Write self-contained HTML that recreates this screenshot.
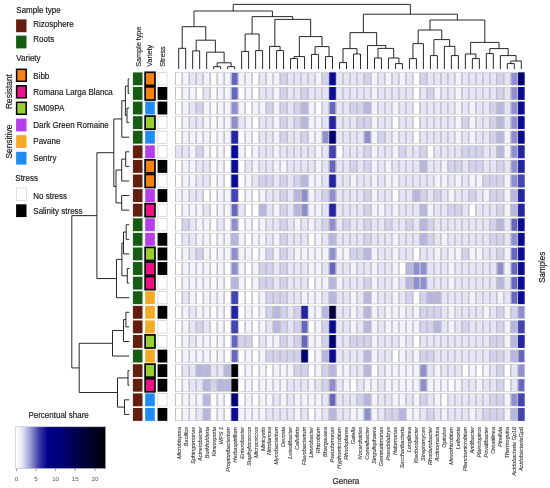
<!DOCTYPE html>
<html lang="en"><head><meta charset="utf-8"><title>Heatmap</title>
<style>
html,body{margin:0;padding:0;background:#fff}
svg{display:block}
text{font-family:"Liberation Sans",sans-serif}
.lg{font-size:8.6px;fill:#1a1a1a;stroke:#1a1a1a;stroke-width:0.18px}
.rs{font-size:9px}
.gn{font-size:5.55px;font-style:italic;fill:#3a3a3a;stroke:#3a3a3a;stroke-width:0.1px}
.hd{font-size:7.2px;fill:#111;stroke:#111;stroke-width:0.12px}
.tk{font-size:6.2px;fill:#555}
</style></head><body>
<svg width="550" height="488" viewBox="0 0 550 488">
<defs><linearGradient id="g" x1="0" x2="1" y1="0" y2="0"><stop offset="0" stop-color="#ffffff"/><stop offset="0.07" stop-color="#e8e8f6"/><stop offset="0.16" stop-color="#a0a0d6"/><stop offset="0.26" stop-color="#3c3ca8"/><stop offset="0.36" stop-color="#000088"/><stop offset="0.5" stop-color="#000078"/><stop offset="0.75" stop-color="#00003c"/><stop offset="1" stop-color="#000008"/></linearGradient></defs>
<rect width="550" height="488" fill="#fff"/>
<g>
<rect x="174.95" y="72.40" width="350.10" height="12.9" fill="#bfbfc5"/><rect x="175.95" y="72.90" width="5.5" height="11.9" fill="#ffffff"/><rect x="182.94" y="72.90" width="5.5" height="11.9" fill="#f3f3fb"/><rect x="189.93" y="72.90" width="5.5" height="11.9" fill="#e5e5f5"/><rect x="196.93" y="72.90" width="5.5" height="11.9" fill="#e5e5f5"/><rect x="203.92" y="72.90" width="5.5" height="11.9" fill="#f3f3fb"/><rect x="210.91" y="72.90" width="5.5" height="11.9" fill="#ffffff"/><rect x="217.90" y="72.90" width="5.5" height="11.9" fill="#f3f3fb"/><rect x="224.89" y="72.90" width="5.5" height="11.9" fill="#f3f3fb"/><rect x="231.89" y="72.90" width="5.5" height="11.9" fill="#6666c0"/><rect x="238.88" y="72.90" width="5.5" height="11.9" fill="#f3f3fb"/><rect x="245.87" y="72.90" width="5.5" height="11.9" fill="#f3f3fb"/><rect x="252.86" y="72.90" width="5.5" height="11.9" fill="#ffffff"/><rect x="259.85" y="72.90" width="5.5" height="11.9" fill="#e5e5f5"/><rect x="266.85" y="72.90" width="5.5" height="11.9" fill="#f3f3fb"/><rect x="273.84" y="72.90" width="5.5" height="11.9" fill="#f3f3fb"/><rect x="280.83" y="72.90" width="5.5" height="11.9" fill="#d2d2ed"/><rect x="287.82" y="72.90" width="5.5" height="11.9" fill="#e5e5f5"/><rect x="294.81" y="72.90" width="5.5" height="11.9" fill="#e5e5f5"/><rect x="301.81" y="72.90" width="5.5" height="11.9" fill="#e5e5f5"/><rect x="308.80" y="72.90" width="5.5" height="11.9" fill="#e5e5f5"/><rect x="315.79" y="72.90" width="5.5" height="11.9" fill="#f3f3fb"/><rect x="322.78" y="72.90" width="5.5" height="11.9" fill="#d2d2ed"/><rect x="329.27" y="72.40" width="6.5" height="12.9" fill="#0a0a92"/><rect x="336.77" y="72.90" width="5.5" height="11.9" fill="#e5e5f5"/><rect x="343.76" y="72.90" width="5.5" height="11.9" fill="#e5e5f5"/><rect x="350.75" y="72.90" width="5.5" height="11.9" fill="#e5e5f5"/><rect x="357.74" y="72.90" width="5.5" height="11.9" fill="#e5e5f5"/><rect x="364.73" y="72.90" width="5.5" height="11.9" fill="#d2d2ed"/><rect x="371.73" y="72.90" width="5.5" height="11.9" fill="#f3f3fb"/><rect x="378.72" y="72.90" width="5.5" height="11.9" fill="#e5e5f5"/><rect x="385.71" y="72.90" width="5.5" height="11.9" fill="#f3f3fb"/><rect x="392.70" y="72.90" width="5.5" height="11.9" fill="#e5e5f5"/><rect x="399.69" y="72.90" width="5.5" height="11.9" fill="#f3f3fb"/><rect x="406.69" y="72.90" width="5.5" height="11.9" fill="#e5e5f5"/><rect x="413.68" y="72.90" width="5.5" height="11.9" fill="#ffffff"/><rect x="420.67" y="72.90" width="5.5" height="11.9" fill="#d2d2ed"/><rect x="427.66" y="72.90" width="5.5" height="11.9" fill="#e5e5f5"/><rect x="434.65" y="72.90" width="5.5" height="11.9" fill="#e5e5f5"/><rect x="441.65" y="72.90" width="5.5" height="11.9" fill="#e5e5f5"/><rect x="448.64" y="72.90" width="5.5" height="11.9" fill="#e5e5f5"/><rect x="455.63" y="72.90" width="5.5" height="11.9" fill="#f3f3fb"/><rect x="462.62" y="72.90" width="5.5" height="11.9" fill="#e5e5f5"/><rect x="469.61" y="72.90" width="5.5" height="11.9" fill="#e5e5f5"/><rect x="476.61" y="72.90" width="5.5" height="11.9" fill="#e5e5f5"/><rect x="483.60" y="72.90" width="5.5" height="11.9" fill="#e5e5f5"/><rect x="490.59" y="72.90" width="5.5" height="11.9" fill="#e5e5f5"/><rect x="497.58" y="72.90" width="5.5" height="11.9" fill="#d2d2ed"/><rect x="504.57" y="72.90" width="5.5" height="11.9" fill="#e5e5f5"/><rect x="511.57" y="72.90" width="5.5" height="11.9" fill="#8e8ed0"/><rect x="518.06" y="72.40" width="6.5" height="12.9" fill="#000070"/>
<rect x="174.95" y="86.99" width="350.10" height="12.9" fill="#bfbfc5"/><rect x="175.95" y="87.49" width="5.5" height="11.9" fill="#ffffff"/><rect x="182.94" y="87.49" width="5.5" height="11.9" fill="#f3f3fb"/><rect x="189.93" y="87.49" width="5.5" height="11.9" fill="#f3f3fb"/><rect x="196.93" y="87.49" width="5.5" height="11.9" fill="#ffffff"/><rect x="203.92" y="87.49" width="5.5" height="11.9" fill="#e5e5f5"/><rect x="210.91" y="87.49" width="5.5" height="11.9" fill="#ffffff"/><rect x="217.90" y="87.49" width="5.5" height="11.9" fill="#f3f3fb"/><rect x="224.89" y="87.49" width="5.5" height="11.9" fill="#f3f3fb"/><rect x="231.89" y="87.49" width="5.5" height="11.9" fill="#6666c0"/><rect x="238.88" y="87.49" width="5.5" height="11.9" fill="#ffffff"/><rect x="245.87" y="87.49" width="5.5" height="11.9" fill="#f3f3fb"/><rect x="252.86" y="87.49" width="5.5" height="11.9" fill="#ffffff"/><rect x="259.85" y="87.49" width="5.5" height="11.9" fill="#e5e5f5"/><rect x="266.85" y="87.49" width="5.5" height="11.9" fill="#e5e5f5"/><rect x="273.84" y="87.49" width="5.5" height="11.9" fill="#f3f3fb"/><rect x="280.83" y="87.49" width="5.5" height="11.9" fill="#d2d2ed"/><rect x="287.82" y="87.49" width="5.5" height="11.9" fill="#e5e5f5"/><rect x="294.81" y="87.49" width="5.5" height="11.9" fill="#e5e5f5"/><rect x="301.81" y="87.49" width="5.5" height="11.9" fill="#d2d2ed"/><rect x="308.80" y="87.49" width="5.5" height="11.9" fill="#e5e5f5"/><rect x="315.79" y="87.49" width="5.5" height="11.9" fill="#e5e5f5"/><rect x="322.78" y="87.49" width="5.5" height="11.9" fill="#e5e5f5"/><rect x="329.27" y="86.99" width="6.5" height="12.9" fill="#0a0a92"/><rect x="336.77" y="87.49" width="5.5" height="11.9" fill="#e5e5f5"/><rect x="343.76" y="87.49" width="5.5" height="11.9" fill="#e5e5f5"/><rect x="350.75" y="87.49" width="5.5" height="11.9" fill="#e5e5f5"/><rect x="357.74" y="87.49" width="5.5" height="11.9" fill="#e5e5f5"/><rect x="364.73" y="87.49" width="5.5" height="11.9" fill="#e5e5f5"/><rect x="371.73" y="87.49" width="5.5" height="11.9" fill="#f3f3fb"/><rect x="378.72" y="87.49" width="5.5" height="11.9" fill="#e5e5f5"/><rect x="385.71" y="87.49" width="5.5" height="11.9" fill="#e5e5f5"/><rect x="392.70" y="87.49" width="5.5" height="11.9" fill="#e5e5f5"/><rect x="399.69" y="87.49" width="5.5" height="11.9" fill="#e5e5f5"/><rect x="406.69" y="87.49" width="5.5" height="11.9" fill="#e5e5f5"/><rect x="413.68" y="87.49" width="5.5" height="11.9" fill="#ffffff"/><rect x="420.67" y="87.49" width="5.5" height="11.9" fill="#e5e5f5"/><rect x="427.66" y="87.49" width="5.5" height="11.9" fill="#d2d2ed"/><rect x="434.65" y="87.49" width="5.5" height="11.9" fill="#f3f3fb"/><rect x="441.65" y="87.49" width="5.5" height="11.9" fill="#e5e5f5"/><rect x="448.64" y="87.49" width="5.5" height="11.9" fill="#e5e5f5"/><rect x="455.63" y="87.49" width="5.5" height="11.9" fill="#f3f3fb"/><rect x="462.62" y="87.49" width="5.5" height="11.9" fill="#e5e5f5"/><rect x="469.61" y="87.49" width="5.5" height="11.9" fill="#e5e5f5"/><rect x="476.61" y="87.49" width="5.5" height="11.9" fill="#e5e5f5"/><rect x="483.60" y="87.49" width="5.5" height="11.9" fill="#e5e5f5"/><rect x="490.59" y="87.49" width="5.5" height="11.9" fill="#e5e5f5"/><rect x="497.58" y="87.49" width="5.5" height="11.9" fill="#d2d2ed"/><rect x="504.57" y="87.49" width="5.5" height="11.9" fill="#e5e5f5"/><rect x="511.57" y="87.49" width="5.5" height="11.9" fill="#8e8ed0"/><rect x="518.06" y="86.99" width="6.5" height="12.9" fill="#0a0a92"/>
<rect x="174.95" y="101.58" width="350.10" height="12.9" fill="#bfbfc5"/><rect x="175.95" y="102.08" width="5.5" height="11.9" fill="#ffffff"/><rect x="182.94" y="102.08" width="5.5" height="11.9" fill="#f3f3fb"/><rect x="189.93" y="102.08" width="5.5" height="11.9" fill="#e5e5f5"/><rect x="196.93" y="102.08" width="5.5" height="11.9" fill="#d2d2ed"/><rect x="203.92" y="102.08" width="5.5" height="11.9" fill="#f3f3fb"/><rect x="210.91" y="102.08" width="5.5" height="11.9" fill="#ffffff"/><rect x="217.90" y="102.08" width="5.5" height="11.9" fill="#f3f3fb"/><rect x="224.89" y="102.08" width="5.5" height="11.9" fill="#f3f3fb"/><rect x="231.89" y="102.08" width="5.5" height="11.9" fill="#8e8ed0"/><rect x="238.88" y="102.08" width="5.5" height="11.9" fill="#f3f3fb"/><rect x="245.87" y="102.08" width="5.5" height="11.9" fill="#ffffff"/><rect x="252.86" y="102.08" width="5.5" height="11.9" fill="#f3f3fb"/><rect x="259.85" y="102.08" width="5.5" height="11.9" fill="#f3f3fb"/><rect x="266.85" y="102.08" width="5.5" height="11.9" fill="#d2d2ed"/><rect x="273.84" y="102.08" width="5.5" height="11.9" fill="#f3f3fb"/><rect x="280.83" y="102.08" width="5.5" height="11.9" fill="#d2d2ed"/><rect x="287.82" y="102.08" width="5.5" height="11.9" fill="#e5e5f5"/><rect x="294.81" y="102.08" width="5.5" height="11.9" fill="#d2d2ed"/><rect x="301.81" y="102.08" width="5.5" height="11.9" fill="#b6b6e1"/><rect x="308.80" y="102.08" width="5.5" height="11.9" fill="#f3f3fb"/><rect x="315.79" y="102.08" width="5.5" height="11.9" fill="#ffffff"/><rect x="322.78" y="102.08" width="5.5" height="11.9" fill="#e5e5f5"/><rect x="329.77" y="102.08" width="5.5" height="11.9" fill="#6666c0"/><rect x="336.77" y="102.08" width="5.5" height="11.9" fill="#e5e5f5"/><rect x="343.76" y="102.08" width="5.5" height="11.9" fill="#e5e5f5"/><rect x="350.75" y="102.08" width="5.5" height="11.9" fill="#d2d2ed"/><rect x="357.74" y="102.08" width="5.5" height="11.9" fill="#d2d2ed"/><rect x="364.73" y="102.08" width="5.5" height="11.9" fill="#b6b6e1"/><rect x="371.73" y="102.08" width="5.5" height="11.9" fill="#f3f3fb"/><rect x="378.72" y="102.08" width="5.5" height="11.9" fill="#e5e5f5"/><rect x="385.71" y="102.08" width="5.5" height="11.9" fill="#e5e5f5"/><rect x="392.70" y="102.08" width="5.5" height="11.9" fill="#f3f3fb"/><rect x="399.69" y="102.08" width="5.5" height="11.9" fill="#e5e5f5"/><rect x="406.69" y="102.08" width="5.5" height="11.9" fill="#e5e5f5"/><rect x="413.68" y="102.08" width="5.5" height="11.9" fill="#ffffff"/><rect x="420.67" y="102.08" width="5.5" height="11.9" fill="#e5e5f5"/><rect x="427.66" y="102.08" width="5.5" height="11.9" fill="#e5e5f5"/><rect x="434.65" y="102.08" width="5.5" height="11.9" fill="#e5e5f5"/><rect x="441.65" y="102.08" width="5.5" height="11.9" fill="#e5e5f5"/><rect x="448.64" y="102.08" width="5.5" height="11.9" fill="#e5e5f5"/><rect x="455.63" y="102.08" width="5.5" height="11.9" fill="#f3f3fb"/><rect x="462.62" y="102.08" width="5.5" height="11.9" fill="#e5e5f5"/><rect x="469.61" y="102.08" width="5.5" height="11.9" fill="#f3f3fb"/><rect x="476.61" y="102.08" width="5.5" height="11.9" fill="#e5e5f5"/><rect x="483.60" y="102.08" width="5.5" height="11.9" fill="#e5e5f5"/><rect x="490.59" y="102.08" width="5.5" height="11.9" fill="#d2d2ed"/><rect x="497.58" y="102.08" width="5.5" height="11.9" fill="#b6b6e1"/><rect x="504.57" y="102.08" width="5.5" height="11.9" fill="#e5e5f5"/><rect x="511.57" y="102.08" width="5.5" height="11.9" fill="#8e8ed0"/><rect x="518.06" y="101.58" width="6.5" height="12.9" fill="#0a0a92"/>
<rect x="174.95" y="116.17" width="350.10" height="12.9" fill="#bfbfc5"/><rect x="175.95" y="116.67" width="5.5" height="11.9" fill="#ffffff"/><rect x="182.94" y="116.67" width="5.5" height="11.9" fill="#f3f3fb"/><rect x="189.93" y="116.67" width="5.5" height="11.9" fill="#e5e5f5"/><rect x="196.93" y="116.67" width="5.5" height="11.9" fill="#e5e5f5"/><rect x="203.92" y="116.67" width="5.5" height="11.9" fill="#f3f3fb"/><rect x="210.91" y="116.67" width="5.5" height="11.9" fill="#ffffff"/><rect x="217.90" y="116.67" width="5.5" height="11.9" fill="#f3f3fb"/><rect x="224.89" y="116.67" width="5.5" height="11.9" fill="#f3f3fb"/><rect x="231.89" y="116.67" width="5.5" height="11.9" fill="#8e8ed0"/><rect x="238.88" y="116.67" width="5.5" height="11.9" fill="#e5e5f5"/><rect x="245.87" y="116.67" width="5.5" height="11.9" fill="#f3f3fb"/><rect x="252.86" y="116.67" width="5.5" height="11.9" fill="#ffffff"/><rect x="259.85" y="116.67" width="5.5" height="11.9" fill="#e5e5f5"/><rect x="266.85" y="116.67" width="5.5" height="11.9" fill="#e5e5f5"/><rect x="273.84" y="116.67" width="5.5" height="11.9" fill="#f3f3fb"/><rect x="280.83" y="116.67" width="5.5" height="11.9" fill="#d2d2ed"/><rect x="287.82" y="116.67" width="5.5" height="11.9" fill="#e5e5f5"/><rect x="294.81" y="116.67" width="5.5" height="11.9" fill="#d2d2ed"/><rect x="301.81" y="116.67" width="5.5" height="11.9" fill="#b6b6e1"/><rect x="308.80" y="116.67" width="5.5" height="11.9" fill="#f3f3fb"/><rect x="315.79" y="116.67" width="5.5" height="11.9" fill="#f3f3fb"/><rect x="322.78" y="116.67" width="5.5" height="11.9" fill="#e5e5f5"/><rect x="329.27" y="116.17" width="6.5" height="12.9" fill="#2424a2"/><rect x="336.77" y="116.67" width="5.5" height="11.9" fill="#e5e5f5"/><rect x="343.76" y="116.67" width="5.5" height="11.9" fill="#e5e5f5"/><rect x="350.75" y="116.67" width="5.5" height="11.9" fill="#e5e5f5"/><rect x="357.74" y="116.67" width="5.5" height="11.9" fill="#d2d2ed"/><rect x="364.73" y="116.67" width="5.5" height="11.9" fill="#d2d2ed"/><rect x="371.73" y="116.67" width="5.5" height="11.9" fill="#f3f3fb"/><rect x="378.72" y="116.67" width="5.5" height="11.9" fill="#e5e5f5"/><rect x="385.71" y="116.67" width="5.5" height="11.9" fill="#e5e5f5"/><rect x="392.70" y="116.67" width="5.5" height="11.9" fill="#ffffff"/><rect x="399.69" y="116.67" width="5.5" height="11.9" fill="#e5e5f5"/><rect x="406.69" y="116.67" width="5.5" height="11.9" fill="#e5e5f5"/><rect x="413.68" y="116.67" width="5.5" height="11.9" fill="#ffffff"/><rect x="420.67" y="116.67" width="5.5" height="11.9" fill="#e5e5f5"/><rect x="427.66" y="116.67" width="5.5" height="11.9" fill="#e5e5f5"/><rect x="434.65" y="116.67" width="5.5" height="11.9" fill="#e5e5f5"/><rect x="441.65" y="116.67" width="5.5" height="11.9" fill="#e5e5f5"/><rect x="448.64" y="116.67" width="5.5" height="11.9" fill="#e5e5f5"/><rect x="455.63" y="116.67" width="5.5" height="11.9" fill="#f3f3fb"/><rect x="462.62" y="116.67" width="5.5" height="11.9" fill="#d2d2ed"/><rect x="469.61" y="116.67" width="5.5" height="11.9" fill="#f3f3fb"/><rect x="476.61" y="116.67" width="5.5" height="11.9" fill="#e5e5f5"/><rect x="483.60" y="116.67" width="5.5" height="11.9" fill="#e5e5f5"/><rect x="490.59" y="116.67" width="5.5" height="11.9" fill="#d2d2ed"/><rect x="497.58" y="116.67" width="5.5" height="11.9" fill="#b6b6e1"/><rect x="504.57" y="116.67" width="5.5" height="11.9" fill="#e5e5f5"/><rect x="511.57" y="116.67" width="5.5" height="11.9" fill="#8e8ed0"/><rect x="518.06" y="116.17" width="6.5" height="12.9" fill="#0a0a92"/>
<rect x="174.95" y="130.76" width="350.10" height="12.9" fill="#bfbfc5"/><rect x="175.95" y="131.26" width="5.5" height="11.9" fill="#ffffff"/><rect x="182.94" y="131.26" width="5.5" height="11.9" fill="#f3f3fb"/><rect x="189.93" y="131.26" width="5.5" height="11.9" fill="#f3f3fb"/><rect x="196.93" y="131.26" width="5.5" height="11.9" fill="#f3f3fb"/><rect x="203.92" y="131.26" width="5.5" height="11.9" fill="#f3f3fb"/><rect x="210.91" y="131.26" width="5.5" height="11.9" fill="#ffffff"/><rect x="217.90" y="131.26" width="5.5" height="11.9" fill="#f3f3fb"/><rect x="224.89" y="131.26" width="5.5" height="11.9" fill="#f3f3fb"/><rect x="231.39" y="130.76" width="6.5" height="12.9" fill="#2424a2"/><rect x="238.88" y="131.26" width="5.5" height="11.9" fill="#ffffff"/><rect x="245.87" y="131.26" width="5.5" height="11.9" fill="#f3f3fb"/><rect x="252.86" y="131.26" width="5.5" height="11.9" fill="#ffffff"/><rect x="259.85" y="131.26" width="5.5" height="11.9" fill="#e5e5f5"/><rect x="266.85" y="131.26" width="5.5" height="11.9" fill="#e5e5f5"/><rect x="273.84" y="131.26" width="5.5" height="11.9" fill="#f3f3fb"/><rect x="280.83" y="131.26" width="5.5" height="11.9" fill="#d2d2ed"/><rect x="287.82" y="131.26" width="5.5" height="11.9" fill="#e5e5f5"/><rect x="294.81" y="131.26" width="5.5" height="11.9" fill="#e5e5f5"/><rect x="301.81" y="131.26" width="5.5" height="11.9" fill="#d2d2ed"/><rect x="308.80" y="131.26" width="5.5" height="11.9" fill="#f3f3fb"/><rect x="315.79" y="131.26" width="5.5" height="11.9" fill="#f3f3fb"/><rect x="322.78" y="131.26" width="5.5" height="11.9" fill="#8e8ed0"/><rect x="329.27" y="130.76" width="6.5" height="12.9" fill="#000070"/><rect x="336.77" y="131.26" width="5.5" height="11.9" fill="#e5e5f5"/><rect x="343.76" y="131.26" width="5.5" height="11.9" fill="#e5e5f5"/><rect x="350.75" y="131.26" width="5.5" height="11.9" fill="#e5e5f5"/><rect x="357.74" y="131.26" width="5.5" height="11.9" fill="#e5e5f5"/><rect x="364.73" y="131.26" width="5.5" height="11.9" fill="#8e8ed0"/><rect x="371.73" y="131.26" width="5.5" height="11.9" fill="#f3f3fb"/><rect x="378.72" y="131.26" width="5.5" height="11.9" fill="#d2d2ed"/><rect x="385.71" y="131.26" width="5.5" height="11.9" fill="#e5e5f5"/><rect x="392.70" y="131.26" width="5.5" height="11.9" fill="#f3f3fb"/><rect x="399.69" y="131.26" width="5.5" height="11.9" fill="#e5e5f5"/><rect x="406.69" y="131.26" width="5.5" height="11.9" fill="#e5e5f5"/><rect x="413.68" y="131.26" width="5.5" height="11.9" fill="#ffffff"/><rect x="420.67" y="131.26" width="5.5" height="11.9" fill="#e5e5f5"/><rect x="427.66" y="131.26" width="5.5" height="11.9" fill="#e5e5f5"/><rect x="434.65" y="131.26" width="5.5" height="11.9" fill="#e5e5f5"/><rect x="441.65" y="131.26" width="5.5" height="11.9" fill="#e5e5f5"/><rect x="448.64" y="131.26" width="5.5" height="11.9" fill="#e5e5f5"/><rect x="455.63" y="131.26" width="5.5" height="11.9" fill="#f3f3fb"/><rect x="462.62" y="131.26" width="5.5" height="11.9" fill="#e5e5f5"/><rect x="469.61" y="131.26" width="5.5" height="11.9" fill="#f3f3fb"/><rect x="476.61" y="131.26" width="5.5" height="11.9" fill="#e5e5f5"/><rect x="483.60" y="131.26" width="5.5" height="11.9" fill="#e5e5f5"/><rect x="490.59" y="131.26" width="5.5" height="11.9" fill="#d2d2ed"/><rect x="497.58" y="131.26" width="5.5" height="11.9" fill="#b6b6e1"/><rect x="504.57" y="131.26" width="5.5" height="11.9" fill="#f3f3fb"/><rect x="511.57" y="131.26" width="5.5" height="11.9" fill="#8e8ed0"/><rect x="518.06" y="130.76" width="6.5" height="12.9" fill="#0a0a92"/>
<rect x="174.95" y="145.35" width="350.10" height="12.9" fill="#bfbfc5"/><rect x="175.95" y="145.85" width="5.5" height="11.9" fill="#e5e5f5"/><rect x="182.94" y="145.85" width="5.5" height="11.9" fill="#e5e5f5"/><rect x="189.93" y="145.85" width="5.5" height="11.9" fill="#f3f3fb"/><rect x="196.93" y="145.85" width="5.5" height="11.9" fill="#d2d2ed"/><rect x="203.92" y="145.85" width="5.5" height="11.9" fill="#f3f3fb"/><rect x="210.91" y="145.85" width="5.5" height="11.9" fill="#ffffff"/><rect x="217.90" y="145.85" width="5.5" height="11.9" fill="#f3f3fb"/><rect x="224.89" y="145.85" width="5.5" height="11.9" fill="#ffffff"/><rect x="231.39" y="145.35" width="6.5" height="12.9" fill="#0a0a92"/><rect x="238.88" y="145.85" width="5.5" height="11.9" fill="#f3f3fb"/><rect x="245.87" y="145.85" width="5.5" height="11.9" fill="#ffffff"/><rect x="252.86" y="145.85" width="5.5" height="11.9" fill="#f3f3fb"/><rect x="259.85" y="145.85" width="5.5" height="11.9" fill="#e5e5f5"/><rect x="266.85" y="145.85" width="5.5" height="11.9" fill="#e5e5f5"/><rect x="273.84" y="145.85" width="5.5" height="11.9" fill="#f3f3fb"/><rect x="280.83" y="145.85" width="5.5" height="11.9" fill="#e5e5f5"/><rect x="287.82" y="145.85" width="5.5" height="11.9" fill="#e5e5f5"/><rect x="294.81" y="145.85" width="5.5" height="11.9" fill="#e5e5f5"/><rect x="301.81" y="145.85" width="5.5" height="11.9" fill="#e5e5f5"/><rect x="308.80" y="145.85" width="5.5" height="11.9" fill="#e5e5f5"/><rect x="315.79" y="145.85" width="5.5" height="11.9" fill="#f3f3fb"/><rect x="322.78" y="145.85" width="5.5" height="11.9" fill="#e5e5f5"/><rect x="329.27" y="145.35" width="6.5" height="12.9" fill="#4444b0"/><rect x="336.77" y="145.85" width="5.5" height="11.9" fill="#ffffff"/><rect x="343.76" y="145.85" width="5.5" height="11.9" fill="#e5e5f5"/><rect x="350.75" y="145.85" width="5.5" height="11.9" fill="#e5e5f5"/><rect x="357.74" y="145.85" width="5.5" height="11.9" fill="#e5e5f5"/><rect x="364.73" y="145.85" width="5.5" height="11.9" fill="#d2d2ed"/><rect x="371.73" y="145.85" width="5.5" height="11.9" fill="#f3f3fb"/><rect x="378.72" y="145.85" width="5.5" height="11.9" fill="#e5e5f5"/><rect x="385.71" y="145.85" width="5.5" height="11.9" fill="#e5e5f5"/><rect x="392.70" y="145.85" width="5.5" height="11.9" fill="#f3f3fb"/><rect x="399.69" y="145.85" width="5.5" height="11.9" fill="#d2d2ed"/><rect x="406.69" y="145.85" width="5.5" height="11.9" fill="#e5e5f5"/><rect x="413.68" y="145.85" width="5.5" height="11.9" fill="#e5e5f5"/><rect x="420.67" y="145.85" width="5.5" height="11.9" fill="#d2d2ed"/><rect x="427.66" y="145.85" width="5.5" height="11.9" fill="#ffffff"/><rect x="434.65" y="145.85" width="5.5" height="11.9" fill="#e5e5f5"/><rect x="441.65" y="145.85" width="5.5" height="11.9" fill="#e5e5f5"/><rect x="448.64" y="145.85" width="5.5" height="11.9" fill="#e5e5f5"/><rect x="455.63" y="145.85" width="5.5" height="11.9" fill="#e5e5f5"/><rect x="462.62" y="145.85" width="5.5" height="11.9" fill="#d2d2ed"/><rect x="469.61" y="145.85" width="5.5" height="11.9" fill="#d2d2ed"/><rect x="476.61" y="145.85" width="5.5" height="11.9" fill="#d2d2ed"/><rect x="483.60" y="145.85" width="5.5" height="11.9" fill="#e5e5f5"/><rect x="490.59" y="145.85" width="5.5" height="11.9" fill="#e5e5f5"/><rect x="497.58" y="145.85" width="5.5" height="11.9" fill="#b6b6e1"/><rect x="504.57" y="145.85" width="5.5" height="11.9" fill="#f3f3fb"/><rect x="511.57" y="145.85" width="5.5" height="11.9" fill="#8e8ed0"/><rect x="518.06" y="145.35" width="6.5" height="12.9" fill="#2424a2"/>
<rect x="174.95" y="159.94" width="350.10" height="12.9" fill="#bfbfc5"/><rect x="175.95" y="160.44" width="5.5" height="11.9" fill="#ffffff"/><rect x="182.94" y="160.44" width="5.5" height="11.9" fill="#f3f3fb"/><rect x="189.93" y="160.44" width="5.5" height="11.9" fill="#f3f3fb"/><rect x="196.93" y="160.44" width="5.5" height="11.9" fill="#e5e5f5"/><rect x="203.92" y="160.44" width="5.5" height="11.9" fill="#e5e5f5"/><rect x="210.91" y="160.44" width="5.5" height="11.9" fill="#ffffff"/><rect x="217.90" y="160.44" width="5.5" height="11.9" fill="#f3f3fb"/><rect x="224.89" y="160.44" width="5.5" height="11.9" fill="#ffffff"/><rect x="231.39" y="159.94" width="6.5" height="12.9" fill="#0a0a92"/><rect x="238.88" y="160.44" width="5.5" height="11.9" fill="#ffffff"/><rect x="245.87" y="160.44" width="5.5" height="11.9" fill="#e5e5f5"/><rect x="252.86" y="160.44" width="5.5" height="11.9" fill="#f3f3fb"/><rect x="259.85" y="160.44" width="5.5" height="11.9" fill="#e5e5f5"/><rect x="266.85" y="160.44" width="5.5" height="11.9" fill="#e5e5f5"/><rect x="273.84" y="160.44" width="5.5" height="11.9" fill="#f3f3fb"/><rect x="280.83" y="160.44" width="5.5" height="11.9" fill="#f3f3fb"/><rect x="287.82" y="160.44" width="5.5" height="11.9" fill="#e5e5f5"/><rect x="294.81" y="160.44" width="5.5" height="11.9" fill="#e5e5f5"/><rect x="301.81" y="160.44" width="5.5" height="11.9" fill="#e5e5f5"/><rect x="308.80" y="160.44" width="5.5" height="11.9" fill="#e5e5f5"/><rect x="315.79" y="160.44" width="5.5" height="11.9" fill="#f3f3fb"/><rect x="322.78" y="160.44" width="5.5" height="11.9" fill="#e5e5f5"/><rect x="329.77" y="160.44" width="5.5" height="11.9" fill="#6666c0"/><rect x="336.77" y="160.44" width="5.5" height="11.9" fill="#e5e5f5"/><rect x="343.76" y="160.44" width="5.5" height="11.9" fill="#e5e5f5"/><rect x="350.75" y="160.44" width="5.5" height="11.9" fill="#d2d2ed"/><rect x="357.74" y="160.44" width="5.5" height="11.9" fill="#e5e5f5"/><rect x="364.73" y="160.44" width="5.5" height="11.9" fill="#d2d2ed"/><rect x="371.73" y="160.44" width="5.5" height="11.9" fill="#f3f3fb"/><rect x="378.72" y="160.44" width="5.5" height="11.9" fill="#e5e5f5"/><rect x="385.71" y="160.44" width="5.5" height="11.9" fill="#f3f3fb"/><rect x="392.70" y="160.44" width="5.5" height="11.9" fill="#e5e5f5"/><rect x="399.69" y="160.44" width="5.5" height="11.9" fill="#e5e5f5"/><rect x="406.69" y="160.44" width="5.5" height="11.9" fill="#e5e5f5"/><rect x="413.68" y="160.44" width="5.5" height="11.9" fill="#e5e5f5"/><rect x="420.67" y="160.44" width="5.5" height="11.9" fill="#b6b6e1"/><rect x="427.66" y="160.44" width="5.5" height="11.9" fill="#e5e5f5"/><rect x="434.65" y="160.44" width="5.5" height="11.9" fill="#e5e5f5"/><rect x="441.65" y="160.44" width="5.5" height="11.9" fill="#f3f3fb"/><rect x="448.64" y="160.44" width="5.5" height="11.9" fill="#d2d2ed"/><rect x="455.63" y="160.44" width="5.5" height="11.9" fill="#d2d2ed"/><rect x="462.62" y="160.44" width="5.5" height="11.9" fill="#e5e5f5"/><rect x="469.61" y="160.44" width="5.5" height="11.9" fill="#d2d2ed"/><rect x="476.61" y="160.44" width="5.5" height="11.9" fill="#d2d2ed"/><rect x="483.60" y="160.44" width="5.5" height="11.9" fill="#e5e5f5"/><rect x="490.59" y="160.44" width="5.5" height="11.9" fill="#e5e5f5"/><rect x="497.58" y="160.44" width="5.5" height="11.9" fill="#d2d2ed"/><rect x="504.57" y="160.44" width="5.5" height="11.9" fill="#e5e5f5"/><rect x="511.57" y="160.44" width="5.5" height="11.9" fill="#8e8ed0"/><rect x="518.06" y="159.94" width="6.5" height="12.9" fill="#2424a2"/>
<rect x="174.95" y="174.53" width="350.10" height="12.9" fill="#bfbfc5"/><rect x="175.95" y="175.03" width="5.5" height="11.9" fill="#ffffff"/><rect x="182.94" y="175.03" width="5.5" height="11.9" fill="#f3f3fb"/><rect x="189.93" y="175.03" width="5.5" height="11.9" fill="#f3f3fb"/><rect x="196.93" y="175.03" width="5.5" height="11.9" fill="#e5e5f5"/><rect x="203.92" y="175.03" width="5.5" height="11.9" fill="#e5e5f5"/><rect x="210.91" y="175.03" width="5.5" height="11.9" fill="#ffffff"/><rect x="217.90" y="175.03" width="5.5" height="11.9" fill="#f3f3fb"/><rect x="224.89" y="175.03" width="5.5" height="11.9" fill="#ffffff"/><rect x="231.39" y="174.53" width="6.5" height="12.9" fill="#0a0a92"/><rect x="238.88" y="175.03" width="5.5" height="11.9" fill="#ffffff"/><rect x="245.87" y="175.03" width="5.5" height="11.9" fill="#f3f3fb"/><rect x="252.86" y="175.03" width="5.5" height="11.9" fill="#e5e5f5"/><rect x="259.85" y="175.03" width="5.5" height="11.9" fill="#d2d2ed"/><rect x="266.85" y="175.03" width="5.5" height="11.9" fill="#d2d2ed"/><rect x="273.84" y="175.03" width="5.5" height="11.9" fill="#e5e5f5"/><rect x="280.83" y="175.03" width="5.5" height="11.9" fill="#d2d2ed"/><rect x="287.82" y="175.03" width="5.5" height="11.9" fill="#e5e5f5"/><rect x="294.81" y="175.03" width="5.5" height="11.9" fill="#d2d2ed"/><rect x="301.81" y="175.03" width="5.5" height="11.9" fill="#b6b6e1"/><rect x="308.80" y="175.03" width="5.5" height="11.9" fill="#f3f3fb"/><rect x="315.79" y="175.03" width="5.5" height="11.9" fill="#f3f3fb"/><rect x="322.78" y="175.03" width="5.5" height="11.9" fill="#e5e5f5"/><rect x="329.27" y="174.53" width="6.5" height="12.9" fill="#2424a2"/><rect x="336.77" y="175.03" width="5.5" height="11.9" fill="#e5e5f5"/><rect x="343.76" y="175.03" width="5.5" height="11.9" fill="#e5e5f5"/><rect x="350.75" y="175.03" width="5.5" height="11.9" fill="#f3f3fb"/><rect x="357.74" y="175.03" width="5.5" height="11.9" fill="#e5e5f5"/><rect x="364.73" y="175.03" width="5.5" height="11.9" fill="#e5e5f5"/><rect x="371.73" y="175.03" width="5.5" height="11.9" fill="#f3f3fb"/><rect x="378.72" y="175.03" width="5.5" height="11.9" fill="#e5e5f5"/><rect x="385.71" y="175.03" width="5.5" height="11.9" fill="#f3f3fb"/><rect x="392.70" y="175.03" width="5.5" height="11.9" fill="#f3f3fb"/><rect x="399.69" y="175.03" width="5.5" height="11.9" fill="#e5e5f5"/><rect x="406.69" y="175.03" width="5.5" height="11.9" fill="#e5e5f5"/><rect x="413.68" y="175.03" width="5.5" height="11.9" fill="#e5e5f5"/><rect x="420.67" y="175.03" width="5.5" height="11.9" fill="#e5e5f5"/><rect x="427.66" y="175.03" width="5.5" height="11.9" fill="#e5e5f5"/><rect x="434.65" y="175.03" width="5.5" height="11.9" fill="#f3f3fb"/><rect x="441.65" y="175.03" width="5.5" height="11.9" fill="#f3f3fb"/><rect x="448.64" y="175.03" width="5.5" height="11.9" fill="#e5e5f5"/><rect x="455.63" y="175.03" width="5.5" height="11.9" fill="#f3f3fb"/><rect x="462.62" y="175.03" width="5.5" height="11.9" fill="#e5e5f5"/><rect x="469.61" y="175.03" width="5.5" height="11.9" fill="#f3f3fb"/><rect x="476.61" y="175.03" width="5.5" height="11.9" fill="#f3f3fb"/><rect x="483.60" y="175.03" width="5.5" height="11.9" fill="#d2d2ed"/><rect x="490.59" y="175.03" width="5.5" height="11.9" fill="#d2d2ed"/><rect x="497.58" y="175.03" width="5.5" height="11.9" fill="#d2d2ed"/><rect x="504.57" y="175.03" width="5.5" height="11.9" fill="#f3f3fb"/><rect x="511.57" y="175.03" width="5.5" height="11.9" fill="#8e8ed0"/><rect x="518.06" y="174.53" width="6.5" height="12.9" fill="#4444b0"/>
<rect x="174.95" y="189.12" width="350.10" height="12.9" fill="#bfbfc5"/><rect x="175.95" y="189.62" width="5.5" height="11.9" fill="#f3f3fb"/><rect x="182.94" y="189.62" width="5.5" height="11.9" fill="#f3f3fb"/><rect x="189.93" y="189.62" width="5.5" height="11.9" fill="#e5e5f5"/><rect x="196.93" y="189.62" width="5.5" height="11.9" fill="#e5e5f5"/><rect x="203.92" y="189.62" width="5.5" height="11.9" fill="#ffffff"/><rect x="210.91" y="189.62" width="5.5" height="11.9" fill="#ffffff"/><rect x="217.90" y="189.62" width="5.5" height="11.9" fill="#f3f3fb"/><rect x="224.89" y="189.62" width="5.5" height="11.9" fill="#f3f3fb"/><rect x="231.39" y="189.12" width="6.5" height="12.9" fill="#4444b0"/><rect x="238.88" y="189.62" width="5.5" height="11.9" fill="#ffffff"/><rect x="245.87" y="189.62" width="5.5" height="11.9" fill="#f3f3fb"/><rect x="252.86" y="189.62" width="5.5" height="11.9" fill="#ffffff"/><rect x="259.85" y="189.62" width="5.5" height="11.9" fill="#f3f3fb"/><rect x="266.85" y="189.62" width="5.5" height="11.9" fill="#e5e5f5"/><rect x="273.84" y="189.62" width="5.5" height="11.9" fill="#e5e5f5"/><rect x="280.83" y="189.62" width="5.5" height="11.9" fill="#d2d2ed"/><rect x="287.82" y="189.62" width="5.5" height="11.9" fill="#e5e5f5"/><rect x="294.81" y="189.62" width="5.5" height="11.9" fill="#b6b6e1"/><rect x="301.81" y="189.62" width="5.5" height="11.9" fill="#8e8ed0"/><rect x="308.80" y="189.62" width="5.5" height="11.9" fill="#f3f3fb"/><rect x="315.79" y="189.62" width="5.5" height="11.9" fill="#e5e5f5"/><rect x="322.78" y="189.62" width="5.5" height="11.9" fill="#d2d2ed"/><rect x="329.77" y="189.62" width="5.5" height="11.9" fill="#8e8ed0"/><rect x="336.77" y="189.62" width="5.5" height="11.9" fill="#e5e5f5"/><rect x="343.76" y="189.62" width="5.5" height="11.9" fill="#e5e5f5"/><rect x="350.75" y="189.62" width="5.5" height="11.9" fill="#e5e5f5"/><rect x="357.74" y="189.62" width="5.5" height="11.9" fill="#e5e5f5"/><rect x="364.73" y="189.62" width="5.5" height="11.9" fill="#d2d2ed"/><rect x="371.73" y="189.62" width="5.5" height="11.9" fill="#f3f3fb"/><rect x="378.72" y="189.62" width="5.5" height="11.9" fill="#e5e5f5"/><rect x="385.71" y="189.62" width="5.5" height="11.9" fill="#e5e5f5"/><rect x="392.70" y="189.62" width="5.5" height="11.9" fill="#ffffff"/><rect x="399.69" y="189.62" width="5.5" height="11.9" fill="#e5e5f5"/><rect x="406.69" y="189.62" width="5.5" height="11.9" fill="#e5e5f5"/><rect x="413.68" y="189.62" width="5.5" height="11.9" fill="#b6b6e1"/><rect x="420.67" y="189.62" width="5.5" height="11.9" fill="#d2d2ed"/><rect x="427.66" y="189.62" width="5.5" height="11.9" fill="#e5e5f5"/><rect x="434.65" y="189.62" width="5.5" height="11.9" fill="#d2d2ed"/><rect x="441.65" y="189.62" width="5.5" height="11.9" fill="#e5e5f5"/><rect x="448.64" y="189.62" width="5.5" height="11.9" fill="#f3f3fb"/><rect x="455.63" y="189.62" width="5.5" height="11.9" fill="#e5e5f5"/><rect x="462.62" y="189.62" width="5.5" height="11.9" fill="#e5e5f5"/><rect x="469.61" y="189.62" width="5.5" height="11.9" fill="#d2d2ed"/><rect x="476.61" y="189.62" width="5.5" height="11.9" fill="#e5e5f5"/><rect x="483.60" y="189.62" width="5.5" height="11.9" fill="#f3f3fb"/><rect x="490.59" y="189.62" width="5.5" height="11.9" fill="#d2d2ed"/><rect x="497.58" y="189.62" width="5.5" height="11.9" fill="#d2d2ed"/><rect x="504.57" y="189.62" width="5.5" height="11.9" fill="#f3f3fb"/><rect x="511.57" y="189.62" width="5.5" height="11.9" fill="#b6b6e1"/><rect x="518.06" y="189.12" width="6.5" height="12.9" fill="#2424a2"/>
<rect x="174.95" y="203.71" width="350.10" height="12.9" fill="#bfbfc5"/><rect x="175.95" y="204.21" width="5.5" height="11.9" fill="#ffffff"/><rect x="182.94" y="204.21" width="5.5" height="11.9" fill="#f3f3fb"/><rect x="189.93" y="204.21" width="5.5" height="11.9" fill="#f3f3fb"/><rect x="196.93" y="204.21" width="5.5" height="11.9" fill="#f3f3fb"/><rect x="203.92" y="204.21" width="5.5" height="11.9" fill="#e5e5f5"/><rect x="210.91" y="204.21" width="5.5" height="11.9" fill="#ffffff"/><rect x="217.90" y="204.21" width="5.5" height="11.9" fill="#f3f3fb"/><rect x="224.89" y="204.21" width="5.5" height="11.9" fill="#f3f3fb"/><rect x="231.89" y="204.21" width="5.5" height="11.9" fill="#6666c0"/><rect x="238.88" y="204.21" width="5.5" height="11.9" fill="#e5e5f5"/><rect x="245.87" y="204.21" width="5.5" height="11.9" fill="#ffffff"/><rect x="252.86" y="204.21" width="5.5" height="11.9" fill="#ffffff"/><rect x="259.85" y="204.21" width="5.5" height="11.9" fill="#b6b6e1"/><rect x="266.85" y="204.21" width="5.5" height="11.9" fill="#e5e5f5"/><rect x="273.84" y="204.21" width="5.5" height="11.9" fill="#f3f3fb"/><rect x="280.83" y="204.21" width="5.5" height="11.9" fill="#d2d2ed"/><rect x="287.82" y="204.21" width="5.5" height="11.9" fill="#e5e5f5"/><rect x="294.81" y="204.21" width="5.5" height="11.9" fill="#b6b6e1"/><rect x="301.81" y="204.21" width="5.5" height="11.9" fill="#8e8ed0"/><rect x="308.80" y="204.21" width="5.5" height="11.9" fill="#f3f3fb"/><rect x="315.79" y="204.21" width="5.5" height="11.9" fill="#f3f3fb"/><rect x="322.78" y="204.21" width="5.5" height="11.9" fill="#e5e5f5"/><rect x="329.27" y="203.71" width="6.5" height="12.9" fill="#2424a2"/><rect x="336.77" y="204.21" width="5.5" height="11.9" fill="#e5e5f5"/><rect x="343.76" y="204.21" width="5.5" height="11.9" fill="#e5e5f5"/><rect x="350.75" y="204.21" width="5.5" height="11.9" fill="#e5e5f5"/><rect x="357.74" y="204.21" width="5.5" height="11.9" fill="#e5e5f5"/><rect x="364.73" y="204.21" width="5.5" height="11.9" fill="#d2d2ed"/><rect x="371.73" y="204.21" width="5.5" height="11.9" fill="#f3f3fb"/><rect x="378.72" y="204.21" width="5.5" height="11.9" fill="#f3f3fb"/><rect x="385.71" y="204.21" width="5.5" height="11.9" fill="#e5e5f5"/><rect x="392.70" y="204.21" width="5.5" height="11.9" fill="#f3f3fb"/><rect x="399.69" y="204.21" width="5.5" height="11.9" fill="#e5e5f5"/><rect x="406.69" y="204.21" width="5.5" height="11.9" fill="#e5e5f5"/><rect x="413.68" y="204.21" width="5.5" height="11.9" fill="#e5e5f5"/><rect x="420.67" y="204.21" width="5.5" height="11.9" fill="#b6b6e1"/><rect x="427.66" y="204.21" width="5.5" height="11.9" fill="#f3f3fb"/><rect x="434.65" y="204.21" width="5.5" height="11.9" fill="#e5e5f5"/><rect x="441.65" y="204.21" width="5.5" height="11.9" fill="#e5e5f5"/><rect x="448.64" y="204.21" width="5.5" height="11.9" fill="#d2d2ed"/><rect x="455.63" y="204.21" width="5.5" height="11.9" fill="#d2d2ed"/><rect x="462.62" y="204.21" width="5.5" height="11.9" fill="#e5e5f5"/><rect x="469.61" y="204.21" width="5.5" height="11.9" fill="#ffffff"/><rect x="476.61" y="204.21" width="5.5" height="11.9" fill="#e5e5f5"/><rect x="483.60" y="204.21" width="5.5" height="11.9" fill="#e5e5f5"/><rect x="490.59" y="204.21" width="5.5" height="11.9" fill="#e5e5f5"/><rect x="497.58" y="204.21" width="5.5" height="11.9" fill="#d2d2ed"/><rect x="504.57" y="204.21" width="5.5" height="11.9" fill="#f3f3fb"/><rect x="511.57" y="204.21" width="5.5" height="11.9" fill="#b6b6e1"/><rect x="518.06" y="203.71" width="6.5" height="12.9" fill="#2424a2"/>
<rect x="174.95" y="218.30" width="350.10" height="12.9" fill="#bfbfc5"/><rect x="175.95" y="218.80" width="5.5" height="11.9" fill="#ffffff"/><rect x="182.94" y="218.80" width="5.5" height="11.9" fill="#d2d2ed"/><rect x="189.93" y="218.80" width="5.5" height="11.9" fill="#e5e5f5"/><rect x="196.93" y="218.80" width="5.5" height="11.9" fill="#f3f3fb"/><rect x="203.92" y="218.80" width="5.5" height="11.9" fill="#f3f3fb"/><rect x="210.91" y="218.80" width="5.5" height="11.9" fill="#ffffff"/><rect x="217.90" y="218.80" width="5.5" height="11.9" fill="#e5e5f5"/><rect x="224.89" y="218.80" width="5.5" height="11.9" fill="#ffffff"/><rect x="231.89" y="218.80" width="5.5" height="11.9" fill="#8e8ed0"/><rect x="238.88" y="218.80" width="5.5" height="11.9" fill="#ffffff"/><rect x="245.87" y="218.80" width="5.5" height="11.9" fill="#f3f3fb"/><rect x="252.86" y="218.80" width="5.5" height="11.9" fill="#ffffff"/><rect x="259.85" y="218.80" width="5.5" height="11.9" fill="#f3f3fb"/><rect x="266.85" y="218.80" width="5.5" height="11.9" fill="#e5e5f5"/><rect x="273.84" y="218.80" width="5.5" height="11.9" fill="#e5e5f5"/><rect x="280.83" y="218.80" width="5.5" height="11.9" fill="#d2d2ed"/><rect x="287.82" y="218.80" width="5.5" height="11.9" fill="#e5e5f5"/><rect x="294.81" y="218.80" width="5.5" height="11.9" fill="#f3f3fb"/><rect x="301.81" y="218.80" width="5.5" height="11.9" fill="#e5e5f5"/><rect x="308.80" y="218.80" width="5.5" height="11.9" fill="#f3f3fb"/><rect x="315.79" y="218.80" width="5.5" height="11.9" fill="#e5e5f5"/><rect x="322.78" y="218.80" width="5.5" height="11.9" fill="#d2d2ed"/><rect x="329.77" y="218.80" width="5.5" height="11.9" fill="#8e8ed0"/><rect x="336.77" y="218.80" width="5.5" height="11.9" fill="#e5e5f5"/><rect x="343.76" y="218.80" width="5.5" height="11.9" fill="#d2d2ed"/><rect x="350.75" y="218.80" width="5.5" height="11.9" fill="#e5e5f5"/><rect x="357.74" y="218.80" width="5.5" height="11.9" fill="#e5e5f5"/><rect x="364.73" y="218.80" width="5.5" height="11.9" fill="#d2d2ed"/><rect x="371.73" y="218.80" width="5.5" height="11.9" fill="#e5e5f5"/><rect x="378.72" y="218.80" width="5.5" height="11.9" fill="#e5e5f5"/><rect x="385.71" y="218.80" width="5.5" height="11.9" fill="#d2d2ed"/><rect x="392.70" y="218.80" width="5.5" height="11.9" fill="#e5e5f5"/><rect x="399.69" y="218.80" width="5.5" height="11.9" fill="#e5e5f5"/><rect x="406.69" y="218.80" width="5.5" height="11.9" fill="#d2d2ed"/><rect x="413.68" y="218.80" width="5.5" height="11.9" fill="#e5e5f5"/><rect x="420.67" y="218.80" width="5.5" height="11.9" fill="#b6b6e1"/><rect x="427.66" y="218.80" width="5.5" height="11.9" fill="#d2d2ed"/><rect x="434.65" y="218.80" width="5.5" height="11.9" fill="#e5e5f5"/><rect x="441.65" y="218.80" width="5.5" height="11.9" fill="#e5e5f5"/><rect x="448.64" y="218.80" width="5.5" height="11.9" fill="#e5e5f5"/><rect x="455.63" y="218.80" width="5.5" height="11.9" fill="#e5e5f5"/><rect x="462.62" y="218.80" width="5.5" height="11.9" fill="#e5e5f5"/><rect x="469.61" y="218.80" width="5.5" height="11.9" fill="#e5e5f5"/><rect x="476.61" y="218.80" width="5.5" height="11.9" fill="#e5e5f5"/><rect x="483.60" y="218.80" width="5.5" height="11.9" fill="#e5e5f5"/><rect x="490.59" y="218.80" width="5.5" height="11.9" fill="#d2d2ed"/><rect x="497.58" y="218.80" width="5.5" height="11.9" fill="#b6b6e1"/><rect x="504.57" y="218.80" width="5.5" height="11.9" fill="#e5e5f5"/><rect x="511.57" y="218.80" width="5.5" height="11.9" fill="#6666c0"/><rect x="518.06" y="218.30" width="6.5" height="12.9" fill="#0a0a92"/>
<rect x="174.95" y="232.89" width="350.10" height="12.9" fill="#bfbfc5"/><rect x="175.95" y="233.39" width="5.5" height="11.9" fill="#ffffff"/><rect x="182.94" y="233.39" width="5.5" height="11.9" fill="#e5e5f5"/><rect x="189.93" y="233.39" width="5.5" height="11.9" fill="#e5e5f5"/><rect x="196.93" y="233.39" width="5.5" height="11.9" fill="#f3f3fb"/><rect x="203.92" y="233.39" width="5.5" height="11.9" fill="#f3f3fb"/><rect x="210.91" y="233.39" width="5.5" height="11.9" fill="#ffffff"/><rect x="217.90" y="233.39" width="5.5" height="11.9" fill="#f3f3fb"/><rect x="224.89" y="233.39" width="5.5" height="11.9" fill="#f3f3fb"/><rect x="231.89" y="233.39" width="5.5" height="11.9" fill="#b6b6e1"/><rect x="238.88" y="233.39" width="5.5" height="11.9" fill="#f3f3fb"/><rect x="245.87" y="233.39" width="5.5" height="11.9" fill="#ffffff"/><rect x="252.86" y="233.39" width="5.5" height="11.9" fill="#f3f3fb"/><rect x="259.85" y="233.39" width="5.5" height="11.9" fill="#f3f3fb"/><rect x="266.85" y="233.39" width="5.5" height="11.9" fill="#e5e5f5"/><rect x="273.84" y="233.39" width="5.5" height="11.9" fill="#f3f3fb"/><rect x="280.83" y="233.39" width="5.5" height="11.9" fill="#d2d2ed"/><rect x="287.82" y="233.39" width="5.5" height="11.9" fill="#e5e5f5"/><rect x="294.81" y="233.39" width="5.5" height="11.9" fill="#e5e5f5"/><rect x="301.81" y="233.39" width="5.5" height="11.9" fill="#e5e5f5"/><rect x="308.80" y="233.39" width="5.5" height="11.9" fill="#ffffff"/><rect x="315.79" y="233.39" width="5.5" height="11.9" fill="#f3f3fb"/><rect x="322.78" y="233.39" width="5.5" height="11.9" fill="#e5e5f5"/><rect x="329.77" y="233.39" width="5.5" height="11.9" fill="#b6b6e1"/><rect x="336.77" y="233.39" width="5.5" height="11.9" fill="#e5e5f5"/><rect x="343.76" y="233.39" width="5.5" height="11.9" fill="#e5e5f5"/><rect x="350.75" y="233.39" width="5.5" height="11.9" fill="#e5e5f5"/><rect x="357.74" y="233.39" width="5.5" height="11.9" fill="#e5e5f5"/><rect x="364.73" y="233.39" width="5.5" height="11.9" fill="#d2d2ed"/><rect x="371.73" y="233.39" width="5.5" height="11.9" fill="#e5e5f5"/><rect x="378.72" y="233.39" width="5.5" height="11.9" fill="#e5e5f5"/><rect x="385.71" y="233.39" width="5.5" height="11.9" fill="#e5e5f5"/><rect x="392.70" y="233.39" width="5.5" height="11.9" fill="#f3f3fb"/><rect x="399.69" y="233.39" width="5.5" height="11.9" fill="#e5e5f5"/><rect x="406.69" y="233.39" width="5.5" height="11.9" fill="#e5e5f5"/><rect x="413.68" y="233.39" width="5.5" height="11.9" fill="#e5e5f5"/><rect x="420.67" y="233.39" width="5.5" height="11.9" fill="#b6b6e1"/><rect x="427.66" y="233.39" width="5.5" height="11.9" fill="#d2d2ed"/><rect x="434.65" y="233.39" width="5.5" height="11.9" fill="#e5e5f5"/><rect x="441.65" y="233.39" width="5.5" height="11.9" fill="#f3f3fb"/><rect x="448.64" y="233.39" width="5.5" height="11.9" fill="#e5e5f5"/><rect x="455.63" y="233.39" width="5.5" height="11.9" fill="#e5e5f5"/><rect x="462.62" y="233.39" width="5.5" height="11.9" fill="#e5e5f5"/><rect x="469.61" y="233.39" width="5.5" height="11.9" fill="#e5e5f5"/><rect x="476.61" y="233.39" width="5.5" height="11.9" fill="#e5e5f5"/><rect x="483.60" y="233.39" width="5.5" height="11.9" fill="#e5e5f5"/><rect x="490.59" y="233.39" width="5.5" height="11.9" fill="#d2d2ed"/><rect x="497.58" y="233.39" width="5.5" height="11.9" fill="#d2d2ed"/><rect x="504.57" y="233.39" width="5.5" height="11.9" fill="#e5e5f5"/><rect x="511.57" y="233.39" width="5.5" height="11.9" fill="#8e8ed0"/><rect x="518.06" y="232.89" width="6.5" height="12.9" fill="#0a0a92"/>
<rect x="174.95" y="247.48" width="350.10" height="12.9" fill="#bfbfc5"/><rect x="175.95" y="247.98" width="5.5" height="11.9" fill="#ffffff"/><rect x="182.94" y="247.98" width="5.5" height="11.9" fill="#f3f3fb"/><rect x="189.93" y="247.98" width="5.5" height="11.9" fill="#e5e5f5"/><rect x="196.93" y="247.98" width="5.5" height="11.9" fill="#d2d2ed"/><rect x="203.92" y="247.98" width="5.5" height="11.9" fill="#f3f3fb"/><rect x="210.91" y="247.98" width="5.5" height="11.9" fill="#ffffff"/><rect x="217.90" y="247.98" width="5.5" height="11.9" fill="#f3f3fb"/><rect x="224.89" y="247.98" width="5.5" height="11.9" fill="#f3f3fb"/><rect x="231.89" y="247.98" width="5.5" height="11.9" fill="#8e8ed0"/><rect x="238.88" y="247.98" width="5.5" height="11.9" fill="#f3f3fb"/><rect x="245.87" y="247.98" width="5.5" height="11.9" fill="#f3f3fb"/><rect x="252.86" y="247.98" width="5.5" height="11.9" fill="#ffffff"/><rect x="259.85" y="247.98" width="5.5" height="11.9" fill="#f3f3fb"/><rect x="266.85" y="247.98" width="5.5" height="11.9" fill="#d2d2ed"/><rect x="273.84" y="247.98" width="5.5" height="11.9" fill="#f3f3fb"/><rect x="280.83" y="247.98" width="5.5" height="11.9" fill="#d2d2ed"/><rect x="287.82" y="247.98" width="5.5" height="11.9" fill="#e5e5f5"/><rect x="294.81" y="247.98" width="5.5" height="11.9" fill="#f3f3fb"/><rect x="301.81" y="247.98" width="5.5" height="11.9" fill="#f3f3fb"/><rect x="308.80" y="247.98" width="5.5" height="11.9" fill="#f3f3fb"/><rect x="315.79" y="247.98" width="5.5" height="11.9" fill="#f3f3fb"/><rect x="322.78" y="247.98" width="5.5" height="11.9" fill="#f3f3fb"/><rect x="329.77" y="247.98" width="5.5" height="11.9" fill="#8e8ed0"/><rect x="336.77" y="247.98" width="5.5" height="11.9" fill="#f3f3fb"/><rect x="343.76" y="247.98" width="5.5" height="11.9" fill="#f3f3fb"/><rect x="350.75" y="247.98" width="5.5" height="11.9" fill="#d2d2ed"/><rect x="357.74" y="247.98" width="5.5" height="11.9" fill="#d2d2ed"/><rect x="364.73" y="247.98" width="5.5" height="11.9" fill="#b6b6e1"/><rect x="371.73" y="247.98" width="5.5" height="11.9" fill="#f3f3fb"/><rect x="378.72" y="247.98" width="5.5" height="11.9" fill="#e5e5f5"/><rect x="385.71" y="247.98" width="5.5" height="11.9" fill="#e5e5f5"/><rect x="392.70" y="247.98" width="5.5" height="11.9" fill="#f3f3fb"/><rect x="399.69" y="247.98" width="5.5" height="11.9" fill="#e5e5f5"/><rect x="406.69" y="247.98" width="5.5" height="11.9" fill="#e5e5f5"/><rect x="413.68" y="247.98" width="5.5" height="11.9" fill="#ffffff"/><rect x="420.67" y="247.98" width="5.5" height="11.9" fill="#e5e5f5"/><rect x="427.66" y="247.98" width="5.5" height="11.9" fill="#e5e5f5"/><rect x="434.65" y="247.98" width="5.5" height="11.9" fill="#f3f3fb"/><rect x="441.65" y="247.98" width="5.5" height="11.9" fill="#e5e5f5"/><rect x="448.64" y="247.98" width="5.5" height="11.9" fill="#f3f3fb"/><rect x="455.63" y="247.98" width="5.5" height="11.9" fill="#f3f3fb"/><rect x="462.62" y="247.98" width="5.5" height="11.9" fill="#d2d2ed"/><rect x="469.61" y="247.98" width="5.5" height="11.9" fill="#f3f3fb"/><rect x="476.61" y="247.98" width="5.5" height="11.9" fill="#f3f3fb"/><rect x="483.60" y="247.98" width="5.5" height="11.9" fill="#e5e5f5"/><rect x="490.59" y="247.98" width="5.5" height="11.9" fill="#e5e5f5"/><rect x="497.58" y="247.98" width="5.5" height="11.9" fill="#d2d2ed"/><rect x="504.57" y="247.98" width="5.5" height="11.9" fill="#f3f3fb"/><rect x="511.57" y="247.98" width="5.5" height="11.9" fill="#6666c0"/><rect x="518.06" y="247.48" width="6.5" height="12.9" fill="#0a0a92"/>
<rect x="174.95" y="262.07" width="350.10" height="12.9" fill="#bfbfc5"/><rect x="175.95" y="262.57" width="5.5" height="11.9" fill="#ffffff"/><rect x="182.94" y="262.57" width="5.5" height="11.9" fill="#f3f3fb"/><rect x="189.93" y="262.57" width="5.5" height="11.9" fill="#f3f3fb"/><rect x="196.93" y="262.57" width="5.5" height="11.9" fill="#f3f3fb"/><rect x="203.92" y="262.57" width="5.5" height="11.9" fill="#f3f3fb"/><rect x="210.91" y="262.57" width="5.5" height="11.9" fill="#ffffff"/><rect x="217.90" y="262.57" width="5.5" height="11.9" fill="#f3f3fb"/><rect x="224.89" y="262.57" width="5.5" height="11.9" fill="#ffffff"/><rect x="231.89" y="262.57" width="5.5" height="11.9" fill="#8e8ed0"/><rect x="238.88" y="262.57" width="5.5" height="11.9" fill="#f3f3fb"/><rect x="245.87" y="262.57" width="5.5" height="11.9" fill="#ffffff"/><rect x="252.86" y="262.57" width="5.5" height="11.9" fill="#f3f3fb"/><rect x="259.85" y="262.57" width="5.5" height="11.9" fill="#d2d2ed"/><rect x="266.85" y="262.57" width="5.5" height="11.9" fill="#d2d2ed"/><rect x="273.84" y="262.57" width="5.5" height="11.9" fill="#e5e5f5"/><rect x="280.83" y="262.57" width="5.5" height="11.9" fill="#d2d2ed"/><rect x="287.82" y="262.57" width="5.5" height="11.9" fill="#e5e5f5"/><rect x="294.81" y="262.57" width="5.5" height="11.9" fill="#e5e5f5"/><rect x="301.81" y="262.57" width="5.5" height="11.9" fill="#e5e5f5"/><rect x="308.80" y="262.57" width="5.5" height="11.9" fill="#f3f3fb"/><rect x="315.79" y="262.57" width="5.5" height="11.9" fill="#f3f3fb"/><rect x="322.78" y="262.57" width="5.5" height="11.9" fill="#e5e5f5"/><rect x="329.77" y="262.57" width="5.5" height="11.9" fill="#6666c0"/><rect x="336.77" y="262.57" width="5.5" height="11.9" fill="#e5e5f5"/><rect x="343.76" y="262.57" width="5.5" height="11.9" fill="#e5e5f5"/><rect x="350.75" y="262.57" width="5.5" height="11.9" fill="#f3f3fb"/><rect x="357.74" y="262.57" width="5.5" height="11.9" fill="#e5e5f5"/><rect x="364.73" y="262.57" width="5.5" height="11.9" fill="#e5e5f5"/><rect x="371.73" y="262.57" width="5.5" height="11.9" fill="#f3f3fb"/><rect x="378.72" y="262.57" width="5.5" height="11.9" fill="#e5e5f5"/><rect x="385.71" y="262.57" width="5.5" height="11.9" fill="#e5e5f5"/><rect x="392.70" y="262.57" width="5.5" height="11.9" fill="#f3f3fb"/><rect x="399.69" y="262.57" width="5.5" height="11.9" fill="#ffffff"/><rect x="406.69" y="262.57" width="5.5" height="11.9" fill="#b6b6e1"/><rect x="413.68" y="262.57" width="5.5" height="11.9" fill="#8e8ed0"/><rect x="420.67" y="262.57" width="5.5" height="11.9" fill="#8e8ed0"/><rect x="427.66" y="262.57" width="5.5" height="11.9" fill="#e5e5f5"/><rect x="434.65" y="262.57" width="5.5" height="11.9" fill="#e5e5f5"/><rect x="441.65" y="262.57" width="5.5" height="11.9" fill="#e5e5f5"/><rect x="448.64" y="262.57" width="5.5" height="11.9" fill="#f3f3fb"/><rect x="455.63" y="262.57" width="5.5" height="11.9" fill="#e5e5f5"/><rect x="462.62" y="262.57" width="5.5" height="11.9" fill="#e5e5f5"/><rect x="469.61" y="262.57" width="5.5" height="11.9" fill="#e5e5f5"/><rect x="476.61" y="262.57" width="5.5" height="11.9" fill="#e5e5f5"/><rect x="483.60" y="262.57" width="5.5" height="11.9" fill="#e5e5f5"/><rect x="490.59" y="262.57" width="5.5" height="11.9" fill="#e5e5f5"/><rect x="497.58" y="262.57" width="5.5" height="11.9" fill="#8e8ed0"/><rect x="504.57" y="262.57" width="5.5" height="11.9" fill="#f3f3fb"/><rect x="511.57" y="262.57" width="5.5" height="11.9" fill="#6666c0"/><rect x="518.06" y="262.07" width="6.5" height="12.9" fill="#0a0a92"/>
<rect x="174.95" y="276.66" width="350.10" height="12.9" fill="#bfbfc5"/><rect x="175.95" y="277.16" width="5.5" height="11.9" fill="#ffffff"/><rect x="182.94" y="277.16" width="5.5" height="11.9" fill="#f3f3fb"/><rect x="189.93" y="277.16" width="5.5" height="11.9" fill="#f3f3fb"/><rect x="196.93" y="277.16" width="5.5" height="11.9" fill="#f3f3fb"/><rect x="203.92" y="277.16" width="5.5" height="11.9" fill="#f3f3fb"/><rect x="210.91" y="277.16" width="5.5" height="11.9" fill="#ffffff"/><rect x="217.90" y="277.16" width="5.5" height="11.9" fill="#f3f3fb"/><rect x="224.89" y="277.16" width="5.5" height="11.9" fill="#ffffff"/><rect x="231.89" y="277.16" width="5.5" height="11.9" fill="#b6b6e1"/><rect x="238.88" y="277.16" width="5.5" height="11.9" fill="#f3f3fb"/><rect x="245.87" y="277.16" width="5.5" height="11.9" fill="#ffffff"/><rect x="252.86" y="277.16" width="5.5" height="11.9" fill="#f3f3fb"/><rect x="259.85" y="277.16" width="5.5" height="11.9" fill="#d2d2ed"/><rect x="266.85" y="277.16" width="5.5" height="11.9" fill="#d2d2ed"/><rect x="273.84" y="277.16" width="5.5" height="11.9" fill="#e5e5f5"/><rect x="280.83" y="277.16" width="5.5" height="11.9" fill="#d2d2ed"/><rect x="287.82" y="277.16" width="5.5" height="11.9" fill="#e5e5f5"/><rect x="294.81" y="277.16" width="5.5" height="11.9" fill="#e5e5f5"/><rect x="301.81" y="277.16" width="5.5" height="11.9" fill="#e5e5f5"/><rect x="308.80" y="277.16" width="5.5" height="11.9" fill="#ffffff"/><rect x="315.79" y="277.16" width="5.5" height="11.9" fill="#f3f3fb"/><rect x="322.78" y="277.16" width="5.5" height="11.9" fill="#f3f3fb"/><rect x="329.77" y="277.16" width="5.5" height="11.9" fill="#b6b6e1"/><rect x="336.77" y="277.16" width="5.5" height="11.9" fill="#f3f3fb"/><rect x="343.76" y="277.16" width="5.5" height="11.9" fill="#e5e5f5"/><rect x="350.75" y="277.16" width="5.5" height="11.9" fill="#e5e5f5"/><rect x="357.74" y="277.16" width="5.5" height="11.9" fill="#e5e5f5"/><rect x="364.73" y="277.16" width="5.5" height="11.9" fill="#d2d2ed"/><rect x="371.73" y="277.16" width="5.5" height="11.9" fill="#f3f3fb"/><rect x="378.72" y="277.16" width="5.5" height="11.9" fill="#e5e5f5"/><rect x="385.71" y="277.16" width="5.5" height="11.9" fill="#e5e5f5"/><rect x="392.70" y="277.16" width="5.5" height="11.9" fill="#f3f3fb"/><rect x="399.69" y="277.16" width="5.5" height="11.9" fill="#e5e5f5"/><rect x="406.69" y="277.16" width="5.5" height="11.9" fill="#b6b6e1"/><rect x="413.68" y="277.16" width="5.5" height="11.9" fill="#8e8ed0"/><rect x="420.67" y="277.16" width="5.5" height="11.9" fill="#8e8ed0"/><rect x="427.66" y="277.16" width="5.5" height="11.9" fill="#e5e5f5"/><rect x="434.65" y="277.16" width="5.5" height="11.9" fill="#e5e5f5"/><rect x="441.65" y="277.16" width="5.5" height="11.9" fill="#e5e5f5"/><rect x="448.64" y="277.16" width="5.5" height="11.9" fill="#f3f3fb"/><rect x="455.63" y="277.16" width="5.5" height="11.9" fill="#e5e5f5"/><rect x="462.62" y="277.16" width="5.5" height="11.9" fill="#e5e5f5"/><rect x="469.61" y="277.16" width="5.5" height="11.9" fill="#e5e5f5"/><rect x="476.61" y="277.16" width="5.5" height="11.9" fill="#e5e5f5"/><rect x="483.60" y="277.16" width="5.5" height="11.9" fill="#e5e5f5"/><rect x="490.59" y="277.16" width="5.5" height="11.9" fill="#e5e5f5"/><rect x="497.58" y="277.16" width="5.5" height="11.9" fill="#b6b6e1"/><rect x="504.57" y="277.16" width="5.5" height="11.9" fill="#e5e5f5"/><rect x="511.57" y="277.16" width="5.5" height="11.9" fill="#6666c0"/><rect x="518.06" y="276.66" width="6.5" height="12.9" fill="#0a0a92"/>
<rect x="174.95" y="291.25" width="350.10" height="12.9" fill="#bfbfc5"/><rect x="175.95" y="291.75" width="5.5" height="11.9" fill="#ffffff"/><rect x="182.94" y="291.75" width="5.5" height="11.9" fill="#e5e5f5"/><rect x="189.93" y="291.75" width="5.5" height="11.9" fill="#f3f3fb"/><rect x="196.93" y="291.75" width="5.5" height="11.9" fill="#ffffff"/><rect x="203.92" y="291.75" width="5.5" height="11.9" fill="#f3f3fb"/><rect x="210.91" y="291.75" width="5.5" height="11.9" fill="#f3f3fb"/><rect x="217.90" y="291.75" width="5.5" height="11.9" fill="#f3f3fb"/><rect x="224.89" y="291.75" width="5.5" height="11.9" fill="#ffffff"/><rect x="231.39" y="291.25" width="6.5" height="12.9" fill="#4444b0"/><rect x="238.88" y="291.75" width="5.5" height="11.9" fill="#ffffff"/><rect x="245.87" y="291.75" width="5.5" height="11.9" fill="#ffffff"/><rect x="252.86" y="291.75" width="5.5" height="11.9" fill="#ffffff"/><rect x="259.85" y="291.75" width="5.5" height="11.9" fill="#f3f3fb"/><rect x="266.85" y="291.75" width="5.5" height="11.9" fill="#d2d2ed"/><rect x="273.84" y="291.75" width="5.5" height="11.9" fill="#d2d2ed"/><rect x="280.83" y="291.75" width="5.5" height="11.9" fill="#d2d2ed"/><rect x="287.82" y="291.75" width="5.5" height="11.9" fill="#e5e5f5"/><rect x="294.81" y="291.75" width="5.5" height="11.9" fill="#e5e5f5"/><rect x="301.81" y="291.75" width="5.5" height="11.9" fill="#f3f3fb"/><rect x="308.80" y="291.75" width="5.5" height="11.9" fill="#f3f3fb"/><rect x="315.79" y="291.75" width="5.5" height="11.9" fill="#f3f3fb"/><rect x="322.78" y="291.75" width="5.5" height="11.9" fill="#e5e5f5"/><rect x="329.77" y="291.75" width="5.5" height="11.9" fill="#b6b6e1"/><rect x="336.77" y="291.75" width="5.5" height="11.9" fill="#e5e5f5"/><rect x="343.76" y="291.75" width="5.5" height="11.9" fill="#e5e5f5"/><rect x="350.75" y="291.75" width="5.5" height="11.9" fill="#f3f3fb"/><rect x="357.74" y="291.75" width="5.5" height="11.9" fill="#e5e5f5"/><rect x="364.73" y="291.75" width="5.5" height="11.9" fill="#b6b6e1"/><rect x="371.73" y="291.75" width="5.5" height="11.9" fill="#f3f3fb"/><rect x="378.72" y="291.75" width="5.5" height="11.9" fill="#e5e5f5"/><rect x="385.71" y="291.75" width="5.5" height="11.9" fill="#e5e5f5"/><rect x="392.70" y="291.75" width="5.5" height="11.9" fill="#f3f3fb"/><rect x="399.69" y="291.75" width="5.5" height="11.9" fill="#e5e5f5"/><rect x="406.69" y="291.75" width="5.5" height="11.9" fill="#d2d2ed"/><rect x="413.68" y="291.75" width="5.5" height="11.9" fill="#ffffff"/><rect x="420.67" y="291.75" width="5.5" height="11.9" fill="#d2d2ed"/><rect x="427.66" y="291.75" width="5.5" height="11.9" fill="#b6b6e1"/><rect x="434.65" y="291.75" width="5.5" height="11.9" fill="#b6b6e1"/><rect x="441.65" y="291.75" width="5.5" height="11.9" fill="#e5e5f5"/><rect x="448.64" y="291.75" width="5.5" height="11.9" fill="#e5e5f5"/><rect x="455.63" y="291.75" width="5.5" height="11.9" fill="#e5e5f5"/><rect x="462.62" y="291.75" width="5.5" height="11.9" fill="#e5e5f5"/><rect x="469.61" y="291.75" width="5.5" height="11.9" fill="#f3f3fb"/><rect x="476.61" y="291.75" width="5.5" height="11.9" fill="#e5e5f5"/><rect x="483.60" y="291.75" width="5.5" height="11.9" fill="#e5e5f5"/><rect x="490.59" y="291.75" width="5.5" height="11.9" fill="#e5e5f5"/><rect x="497.58" y="291.75" width="5.5" height="11.9" fill="#f3f3fb"/><rect x="504.57" y="291.75" width="5.5" height="11.9" fill="#e5e5f5"/><rect x="511.57" y="291.75" width="5.5" height="11.9" fill="#6666c0"/><rect x="518.06" y="291.25" width="6.5" height="12.9" fill="#0a0a92"/>
<rect x="174.95" y="305.84" width="350.10" height="12.9" fill="#bfbfc5"/><rect x="175.95" y="306.34" width="5.5" height="11.9" fill="#ffffff"/><rect x="182.94" y="306.34" width="5.5" height="11.9" fill="#f3f3fb"/><rect x="189.93" y="306.34" width="5.5" height="11.9" fill="#e5e5f5"/><rect x="196.93" y="306.34" width="5.5" height="11.9" fill="#f3f3fb"/><rect x="203.92" y="306.34" width="5.5" height="11.9" fill="#f3f3fb"/><rect x="210.91" y="306.34" width="5.5" height="11.9" fill="#ffffff"/><rect x="217.90" y="306.34" width="5.5" height="11.9" fill="#f3f3fb"/><rect x="224.89" y="306.34" width="5.5" height="11.9" fill="#ffffff"/><rect x="231.39" y="305.84" width="6.5" height="12.9" fill="#2424a2"/><rect x="238.88" y="306.34" width="5.5" height="11.9" fill="#ffffff"/><rect x="245.87" y="306.34" width="5.5" height="11.9" fill="#f3f3fb"/><rect x="252.86" y="306.34" width="5.5" height="11.9" fill="#ffffff"/><rect x="259.85" y="306.34" width="5.5" height="11.9" fill="#f3f3fb"/><rect x="266.85" y="306.34" width="5.5" height="11.9" fill="#d2d2ed"/><rect x="273.84" y="306.34" width="5.5" height="11.9" fill="#b6b6e1"/><rect x="280.83" y="306.34" width="5.5" height="11.9" fill="#d2d2ed"/><rect x="287.82" y="306.34" width="5.5" height="11.9" fill="#e5e5f5"/><rect x="294.81" y="306.34" width="5.5" height="11.9" fill="#d2d2ed"/><rect x="301.31" y="305.84" width="6.5" height="12.9" fill="#2424a2"/><rect x="308.80" y="306.34" width="5.5" height="11.9" fill="#f3f3fb"/><rect x="315.79" y="306.34" width="5.5" height="11.9" fill="#f3f3fb"/><rect x="322.78" y="306.34" width="5.5" height="11.9" fill="#b6b6e1"/><rect x="329.27" y="305.84" width="6.5" height="12.9" fill="#000040"/><rect x="336.77" y="306.34" width="5.5" height="11.9" fill="#e5e5f5"/><rect x="343.76" y="306.34" width="5.5" height="11.9" fill="#e5e5f5"/><rect x="350.75" y="306.34" width="5.5" height="11.9" fill="#f3f3fb"/><rect x="357.74" y="306.34" width="5.5" height="11.9" fill="#e5e5f5"/><rect x="364.73" y="306.34" width="5.5" height="11.9" fill="#b6b6e1"/><rect x="371.73" y="306.34" width="5.5" height="11.9" fill="#f3f3fb"/><rect x="378.72" y="306.34" width="5.5" height="11.9" fill="#e5e5f5"/><rect x="385.71" y="306.34" width="5.5" height="11.9" fill="#f3f3fb"/><rect x="392.70" y="306.34" width="5.5" height="11.9" fill="#f3f3fb"/><rect x="399.69" y="306.34" width="5.5" height="11.9" fill="#f3f3fb"/><rect x="406.69" y="306.34" width="5.5" height="11.9" fill="#e5e5f5"/><rect x="413.68" y="306.34" width="5.5" height="11.9" fill="#f3f3fb"/><rect x="420.67" y="306.34" width="5.5" height="11.9" fill="#d2d2ed"/><rect x="427.66" y="306.34" width="5.5" height="11.9" fill="#d2d2ed"/><rect x="434.65" y="306.34" width="5.5" height="11.9" fill="#d2d2ed"/><rect x="441.65" y="306.34" width="5.5" height="11.9" fill="#e5e5f5"/><rect x="448.64" y="306.34" width="5.5" height="11.9" fill="#f3f3fb"/><rect x="455.63" y="306.34" width="5.5" height="11.9" fill="#e5e5f5"/><rect x="462.62" y="306.34" width="5.5" height="11.9" fill="#e5e5f5"/><rect x="469.61" y="306.34" width="5.5" height="11.9" fill="#e5e5f5"/><rect x="476.61" y="306.34" width="5.5" height="11.9" fill="#e5e5f5"/><rect x="483.60" y="306.34" width="5.5" height="11.9" fill="#f3f3fb"/><rect x="490.59" y="306.34" width="5.5" height="11.9" fill="#e5e5f5"/><rect x="497.58" y="306.34" width="5.5" height="11.9" fill="#d2d2ed"/><rect x="504.57" y="306.34" width="5.5" height="11.9" fill="#f3f3fb"/><rect x="511.57" y="306.34" width="5.5" height="11.9" fill="#d2d2ed"/><rect x="518.56" y="306.34" width="5.5" height="11.9" fill="#8e8ed0"/>
<rect x="174.95" y="320.43" width="350.10" height="12.9" fill="#bfbfc5"/><rect x="175.95" y="320.93" width="5.5" height="11.9" fill="#ffffff"/><rect x="182.94" y="320.93" width="5.5" height="11.9" fill="#f3f3fb"/><rect x="189.93" y="320.93" width="5.5" height="11.9" fill="#e5e5f5"/><rect x="196.93" y="320.93" width="5.5" height="11.9" fill="#d2d2ed"/><rect x="203.92" y="320.93" width="5.5" height="11.9" fill="#e5e5f5"/><rect x="210.91" y="320.93" width="5.5" height="11.9" fill="#ffffff"/><rect x="217.90" y="320.93" width="5.5" height="11.9" fill="#f3f3fb"/><rect x="224.89" y="320.93" width="5.5" height="11.9" fill="#ffffff"/><rect x="231.39" y="320.43" width="6.5" height="12.9" fill="#4444b0"/><rect x="238.88" y="320.93" width="5.5" height="11.9" fill="#ffffff"/><rect x="245.87" y="320.93" width="5.5" height="11.9" fill="#f3f3fb"/><rect x="252.86" y="320.93" width="5.5" height="11.9" fill="#ffffff"/><rect x="259.85" y="320.93" width="5.5" height="11.9" fill="#f3f3fb"/><rect x="266.85" y="320.93" width="5.5" height="11.9" fill="#e5e5f5"/><rect x="273.84" y="320.93" width="5.5" height="11.9" fill="#b6b6e1"/><rect x="280.83" y="320.93" width="5.5" height="11.9" fill="#d2d2ed"/><rect x="287.82" y="320.93" width="5.5" height="11.9" fill="#e5e5f5"/><rect x="294.81" y="320.93" width="5.5" height="11.9" fill="#d2d2ed"/><rect x="301.81" y="320.93" width="5.5" height="11.9" fill="#6666c0"/><rect x="308.80" y="320.93" width="5.5" height="11.9" fill="#ffffff"/><rect x="315.79" y="320.93" width="5.5" height="11.9" fill="#f3f3fb"/><rect x="322.78" y="320.93" width="5.5" height="11.9" fill="#d2d2ed"/><rect x="329.27" y="320.43" width="6.5" height="12.9" fill="#0a0a92"/><rect x="336.77" y="320.93" width="5.5" height="11.9" fill="#e5e5f5"/><rect x="343.76" y="320.93" width="5.5" height="11.9" fill="#e5e5f5"/><rect x="350.75" y="320.93" width="5.5" height="11.9" fill="#f3f3fb"/><rect x="357.74" y="320.93" width="5.5" height="11.9" fill="#e5e5f5"/><rect x="364.73" y="320.93" width="5.5" height="11.9" fill="#b6b6e1"/><rect x="371.73" y="320.93" width="5.5" height="11.9" fill="#f3f3fb"/><rect x="378.72" y="320.93" width="5.5" height="11.9" fill="#e5e5f5"/><rect x="385.71" y="320.93" width="5.5" height="11.9" fill="#f3f3fb"/><rect x="392.70" y="320.93" width="5.5" height="11.9" fill="#f3f3fb"/><rect x="399.69" y="320.93" width="5.5" height="11.9" fill="#f3f3fb"/><rect x="406.69" y="320.93" width="5.5" height="11.9" fill="#f3f3fb"/><rect x="413.68" y="320.93" width="5.5" height="11.9" fill="#f3f3fb"/><rect x="420.67" y="320.93" width="5.5" height="11.9" fill="#d2d2ed"/><rect x="427.66" y="320.93" width="5.5" height="11.9" fill="#d2d2ed"/><rect x="434.65" y="320.93" width="5.5" height="11.9" fill="#b6b6e1"/><rect x="441.65" y="320.93" width="5.5" height="11.9" fill="#e5e5f5"/><rect x="448.64" y="320.93" width="5.5" height="11.9" fill="#f3f3fb"/><rect x="455.63" y="320.93" width="5.5" height="11.9" fill="#e5e5f5"/><rect x="462.62" y="320.93" width="5.5" height="11.9" fill="#d2d2ed"/><rect x="469.61" y="320.93" width="5.5" height="11.9" fill="#e5e5f5"/><rect x="476.61" y="320.93" width="5.5" height="11.9" fill="#e5e5f5"/><rect x="483.60" y="320.93" width="5.5" height="11.9" fill="#e5e5f5"/><rect x="490.59" y="320.93" width="5.5" height="11.9" fill="#e5e5f5"/><rect x="497.58" y="320.93" width="5.5" height="11.9" fill="#d2d2ed"/><rect x="504.57" y="320.93" width="5.5" height="11.9" fill="#f3f3fb"/><rect x="511.57" y="320.93" width="5.5" height="11.9" fill="#b6b6e1"/><rect x="518.06" y="320.43" width="6.5" height="12.9" fill="#4444b0"/>
<rect x="174.95" y="335.02" width="350.10" height="12.9" fill="#bfbfc5"/><rect x="175.95" y="335.52" width="5.5" height="11.9" fill="#ffffff"/><rect x="182.94" y="335.52" width="5.5" height="11.9" fill="#f3f3fb"/><rect x="189.93" y="335.52" width="5.5" height="11.9" fill="#e5e5f5"/><rect x="196.93" y="335.52" width="5.5" height="11.9" fill="#f3f3fb"/><rect x="203.92" y="335.52" width="5.5" height="11.9" fill="#f3f3fb"/><rect x="210.91" y="335.52" width="5.5" height="11.9" fill="#ffffff"/><rect x="217.90" y="335.52" width="5.5" height="11.9" fill="#f3f3fb"/><rect x="224.89" y="335.52" width="5.5" height="11.9" fill="#ffffff"/><rect x="231.89" y="335.52" width="5.5" height="11.9" fill="#6666c0"/><rect x="238.88" y="335.52" width="5.5" height="11.9" fill="#d2d2ed"/><rect x="245.87" y="335.52" width="5.5" height="11.9" fill="#d2d2ed"/><rect x="252.86" y="335.52" width="5.5" height="11.9" fill="#ffffff"/><rect x="259.85" y="335.52" width="5.5" height="11.9" fill="#e5e5f5"/><rect x="266.85" y="335.52" width="5.5" height="11.9" fill="#f3f3fb"/><rect x="273.84" y="335.52" width="5.5" height="11.9" fill="#f3f3fb"/><rect x="280.83" y="335.52" width="5.5" height="11.9" fill="#d2d2ed"/><rect x="287.82" y="335.52" width="5.5" height="11.9" fill="#e5e5f5"/><rect x="294.81" y="335.52" width="5.5" height="11.9" fill="#d2d2ed"/><rect x="301.81" y="335.52" width="5.5" height="11.9" fill="#6666c0"/><rect x="308.80" y="335.52" width="5.5" height="11.9" fill="#f3f3fb"/><rect x="315.79" y="335.52" width="5.5" height="11.9" fill="#f3f3fb"/><rect x="322.78" y="335.52" width="5.5" height="11.9" fill="#d2d2ed"/><rect x="329.27" y="335.02" width="6.5" height="12.9" fill="#000070"/><rect x="336.77" y="335.52" width="5.5" height="11.9" fill="#e5e5f5"/><rect x="343.76" y="335.52" width="5.5" height="11.9" fill="#e5e5f5"/><rect x="350.75" y="335.52" width="5.5" height="11.9" fill="#d2d2ed"/><rect x="357.74" y="335.52" width="5.5" height="11.9" fill="#d2d2ed"/><rect x="364.73" y="335.52" width="5.5" height="11.9" fill="#d2d2ed"/><rect x="371.73" y="335.52" width="5.5" height="11.9" fill="#f3f3fb"/><rect x="378.72" y="335.52" width="5.5" height="11.9" fill="#e5e5f5"/><rect x="385.71" y="335.52" width="5.5" height="11.9" fill="#e5e5f5"/><rect x="392.70" y="335.52" width="5.5" height="11.9" fill="#e5e5f5"/><rect x="399.69" y="335.52" width="5.5" height="11.9" fill="#f3f3fb"/><rect x="406.69" y="335.52" width="5.5" height="11.9" fill="#e5e5f5"/><rect x="413.68" y="335.52" width="5.5" height="11.9" fill="#ffffff"/><rect x="420.67" y="335.52" width="5.5" height="11.9" fill="#e5e5f5"/><rect x="427.66" y="335.52" width="5.5" height="11.9" fill="#e5e5f5"/><rect x="434.65" y="335.52" width="5.5" height="11.9" fill="#e5e5f5"/><rect x="441.65" y="335.52" width="5.5" height="11.9" fill="#e5e5f5"/><rect x="448.64" y="335.52" width="5.5" height="11.9" fill="#e5e5f5"/><rect x="455.63" y="335.52" width="5.5" height="11.9" fill="#e5e5f5"/><rect x="462.62" y="335.52" width="5.5" height="11.9" fill="#e5e5f5"/><rect x="469.61" y="335.52" width="5.5" height="11.9" fill="#e5e5f5"/><rect x="476.61" y="335.52" width="5.5" height="11.9" fill="#e5e5f5"/><rect x="483.60" y="335.52" width="5.5" height="11.9" fill="#e5e5f5"/><rect x="490.59" y="335.52" width="5.5" height="11.9" fill="#d2d2ed"/><rect x="497.58" y="335.52" width="5.5" height="11.9" fill="#d2d2ed"/><rect x="504.57" y="335.52" width="5.5" height="11.9" fill="#f3f3fb"/><rect x="511.57" y="335.52" width="5.5" height="11.9" fill="#b6b6e1"/><rect x="518.06" y="335.02" width="6.5" height="12.9" fill="#2424a2"/>
<rect x="174.95" y="349.61" width="350.10" height="12.9" fill="#bfbfc5"/><rect x="175.95" y="350.11" width="5.5" height="11.9" fill="#ffffff"/><rect x="182.94" y="350.11" width="5.5" height="11.9" fill="#f3f3fb"/><rect x="189.93" y="350.11" width="5.5" height="11.9" fill="#f3f3fb"/><rect x="196.93" y="350.11" width="5.5" height="11.9" fill="#f3f3fb"/><rect x="203.92" y="350.11" width="5.5" height="11.9" fill="#f3f3fb"/><rect x="210.91" y="350.11" width="5.5" height="11.9" fill="#ffffff"/><rect x="217.90" y="350.11" width="5.5" height="11.9" fill="#f3f3fb"/><rect x="224.89" y="350.11" width="5.5" height="11.9" fill="#ffffff"/><rect x="231.89" y="350.11" width="5.5" height="11.9" fill="#6666c0"/><rect x="238.88" y="350.11" width="5.5" height="11.9" fill="#ffffff"/><rect x="245.87" y="350.11" width="5.5" height="11.9" fill="#f3f3fb"/><rect x="252.86" y="350.11" width="5.5" height="11.9" fill="#ffffff"/><rect x="259.85" y="350.11" width="5.5" height="11.9" fill="#f3f3fb"/><rect x="266.85" y="350.11" width="5.5" height="11.9" fill="#d2d2ed"/><rect x="273.84" y="350.11" width="5.5" height="11.9" fill="#d2d2ed"/><rect x="280.83" y="350.11" width="5.5" height="11.9" fill="#d2d2ed"/><rect x="287.82" y="350.11" width="5.5" height="11.9" fill="#d2d2ed"/><rect x="294.81" y="350.11" width="5.5" height="11.9" fill="#d2d2ed"/><rect x="301.31" y="349.61" width="6.5" height="12.9" fill="#000070"/><rect x="308.80" y="350.11" width="5.5" height="11.9" fill="#ffffff"/><rect x="315.79" y="350.11" width="5.5" height="11.9" fill="#f3f3fb"/><rect x="322.78" y="350.11" width="5.5" height="11.9" fill="#b6b6e1"/><rect x="329.27" y="349.61" width="6.5" height="12.9" fill="#0a0a92"/><rect x="336.77" y="350.11" width="5.5" height="11.9" fill="#e5e5f5"/><rect x="343.76" y="350.11" width="5.5" height="11.9" fill="#e5e5f5"/><rect x="350.75" y="350.11" width="5.5" height="11.9" fill="#e5e5f5"/><rect x="357.74" y="350.11" width="5.5" height="11.9" fill="#e5e5f5"/><rect x="364.73" y="350.11" width="5.5" height="11.9" fill="#b6b6e1"/><rect x="371.73" y="350.11" width="5.5" height="11.9" fill="#f3f3fb"/><rect x="378.72" y="350.11" width="5.5" height="11.9" fill="#e5e5f5"/><rect x="385.71" y="350.11" width="5.5" height="11.9" fill="#e5e5f5"/><rect x="392.70" y="350.11" width="5.5" height="11.9" fill="#ffffff"/><rect x="399.69" y="350.11" width="5.5" height="11.9" fill="#f3f3fb"/><rect x="406.69" y="350.11" width="5.5" height="11.9" fill="#e5e5f5"/><rect x="413.68" y="350.11" width="5.5" height="11.9" fill="#f3f3fb"/><rect x="420.67" y="350.11" width="5.5" height="11.9" fill="#d2d2ed"/><rect x="427.66" y="350.11" width="5.5" height="11.9" fill="#d2d2ed"/><rect x="434.65" y="350.11" width="5.5" height="11.9" fill="#e5e5f5"/><rect x="441.65" y="350.11" width="5.5" height="11.9" fill="#e5e5f5"/><rect x="448.64" y="350.11" width="5.5" height="11.9" fill="#e5e5f5"/><rect x="455.63" y="350.11" width="5.5" height="11.9" fill="#e5e5f5"/><rect x="462.62" y="350.11" width="5.5" height="11.9" fill="#e5e5f5"/><rect x="469.61" y="350.11" width="5.5" height="11.9" fill="#e5e5f5"/><rect x="476.61" y="350.11" width="5.5" height="11.9" fill="#e5e5f5"/><rect x="483.60" y="350.11" width="5.5" height="11.9" fill="#e5e5f5"/><rect x="490.59" y="350.11" width="5.5" height="11.9" fill="#d2d2ed"/><rect x="497.58" y="350.11" width="5.5" height="11.9" fill="#d2d2ed"/><rect x="504.57" y="350.11" width="5.5" height="11.9" fill="#e5e5f5"/><rect x="511.57" y="350.11" width="5.5" height="11.9" fill="#b6b6e1"/><rect x="518.56" y="350.11" width="5.5" height="11.9" fill="#6666c0"/>
<rect x="174.95" y="364.20" width="350.10" height="12.9" fill="#bfbfc5"/><rect x="175.95" y="364.70" width="5.5" height="11.9" fill="#ffffff"/><rect x="182.94" y="364.70" width="5.5" height="11.9" fill="#e5e5f5"/><rect x="189.93" y="364.70" width="5.5" height="11.9" fill="#e5e5f5"/><rect x="196.93" y="364.70" width="5.5" height="11.9" fill="#b6b6e1"/><rect x="203.92" y="364.70" width="5.5" height="11.9" fill="#b6b6e1"/><rect x="210.91" y="364.70" width="5.5" height="11.9" fill="#e5e5f5"/><rect x="217.90" y="364.70" width="5.5" height="11.9" fill="#e5e5f5"/><rect x="224.89" y="364.70" width="5.5" height="11.9" fill="#b6b6e1"/><rect x="231.39" y="364.20" width="6.5" height="12.9" fill="#000008"/><rect x="238.88" y="364.70" width="5.5" height="11.9" fill="#ffffff"/><rect x="245.87" y="364.70" width="5.5" height="11.9" fill="#f3f3fb"/><rect x="252.86" y="364.70" width="5.5" height="11.9" fill="#ffffff"/><rect x="259.85" y="364.70" width="5.5" height="11.9" fill="#f3f3fb"/><rect x="266.85" y="364.70" width="5.5" height="11.9" fill="#ffffff"/><rect x="273.84" y="364.70" width="5.5" height="11.9" fill="#f3f3fb"/><rect x="280.83" y="364.70" width="5.5" height="11.9" fill="#f3f3fb"/><rect x="287.82" y="364.70" width="5.5" height="11.9" fill="#f3f3fb"/><rect x="294.81" y="364.70" width="5.5" height="11.9" fill="#d2d2ed"/><rect x="301.81" y="364.70" width="5.5" height="11.9" fill="#d2d2ed"/><rect x="308.80" y="364.70" width="5.5" height="11.9" fill="#ffffff"/><rect x="315.79" y="364.70" width="5.5" height="11.9" fill="#f3f3fb"/><rect x="322.78" y="364.70" width="5.5" height="11.9" fill="#d2d2ed"/><rect x="329.77" y="364.70" width="5.5" height="11.9" fill="#b6b6e1"/><rect x="336.77" y="364.70" width="5.5" height="11.9" fill="#f3f3fb"/><rect x="343.76" y="364.70" width="5.5" height="11.9" fill="#f3f3fb"/><rect x="350.75" y="364.70" width="5.5" height="11.9" fill="#e5e5f5"/><rect x="357.74" y="364.70" width="5.5" height="11.9" fill="#e5e5f5"/><rect x="364.73" y="364.70" width="5.5" height="11.9" fill="#b6b6e1"/><rect x="371.73" y="364.70" width="5.5" height="11.9" fill="#ffffff"/><rect x="378.72" y="364.70" width="5.5" height="11.9" fill="#e5e5f5"/><rect x="385.71" y="364.70" width="5.5" height="11.9" fill="#f3f3fb"/><rect x="392.70" y="364.70" width="5.5" height="11.9" fill="#f3f3fb"/><rect x="399.69" y="364.70" width="5.5" height="11.9" fill="#f3f3fb"/><rect x="406.69" y="364.70" width="5.5" height="11.9" fill="#f3f3fb"/><rect x="413.68" y="364.70" width="5.5" height="11.9" fill="#f3f3fb"/><rect x="420.67" y="364.70" width="5.5" height="11.9" fill="#8e8ed0"/><rect x="427.66" y="364.70" width="5.5" height="11.9" fill="#e5e5f5"/><rect x="434.65" y="364.70" width="5.5" height="11.9" fill="#f3f3fb"/><rect x="441.65" y="364.70" width="5.5" height="11.9" fill="#e5e5f5"/><rect x="448.64" y="364.70" width="5.5" height="11.9" fill="#e5e5f5"/><rect x="455.63" y="364.70" width="5.5" height="11.9" fill="#e5e5f5"/><rect x="462.62" y="364.70" width="5.5" height="11.9" fill="#ffffff"/><rect x="469.61" y="364.70" width="5.5" height="11.9" fill="#f3f3fb"/><rect x="476.61" y="364.70" width="5.5" height="11.9" fill="#ffffff"/><rect x="483.60" y="364.70" width="5.5" height="11.9" fill="#f3f3fb"/><rect x="490.59" y="364.70" width="5.5" height="11.9" fill="#e5e5f5"/><rect x="497.58" y="364.70" width="5.5" height="11.9" fill="#d2d2ed"/><rect x="504.57" y="364.70" width="5.5" height="11.9" fill="#ffffff"/><rect x="511.57" y="364.70" width="5.5" height="11.9" fill="#e5e5f5"/><rect x="518.56" y="364.70" width="5.5" height="11.9" fill="#8e8ed0"/>
<rect x="174.95" y="378.79" width="350.10" height="12.9" fill="#bfbfc5"/><rect x="175.95" y="379.29" width="5.5" height="11.9" fill="#ffffff"/><rect x="182.94" y="379.29" width="5.5" height="11.9" fill="#f3f3fb"/><rect x="189.93" y="379.29" width="5.5" height="11.9" fill="#e5e5f5"/><rect x="196.93" y="379.29" width="5.5" height="11.9" fill="#e5e5f5"/><rect x="203.92" y="379.29" width="5.5" height="11.9" fill="#b6b6e1"/><rect x="210.91" y="379.29" width="5.5" height="11.9" fill="#d2d2ed"/><rect x="217.90" y="379.29" width="5.5" height="11.9" fill="#b6b6e1"/><rect x="224.89" y="379.29" width="5.5" height="11.9" fill="#b6b6e1"/><rect x="231.39" y="378.79" width="6.5" height="12.9" fill="#000008"/><rect x="238.88" y="379.29" width="5.5" height="11.9" fill="#ffffff"/><rect x="245.87" y="379.29" width="5.5" height="11.9" fill="#f3f3fb"/><rect x="252.86" y="379.29" width="5.5" height="11.9" fill="#ffffff"/><rect x="259.85" y="379.29" width="5.5" height="11.9" fill="#f3f3fb"/><rect x="266.85" y="379.29" width="5.5" height="11.9" fill="#f3f3fb"/><rect x="273.84" y="379.29" width="5.5" height="11.9" fill="#f3f3fb"/><rect x="280.83" y="379.29" width="5.5" height="11.9" fill="#f3f3fb"/><rect x="287.82" y="379.29" width="5.5" height="11.9" fill="#e5e5f5"/><rect x="294.81" y="379.29" width="5.5" height="11.9" fill="#e5e5f5"/><rect x="301.81" y="379.29" width="5.5" height="11.9" fill="#e5e5f5"/><rect x="308.80" y="379.29" width="5.5" height="11.9" fill="#f3f3fb"/><rect x="315.79" y="379.29" width="5.5" height="11.9" fill="#e5e5f5"/><rect x="322.78" y="379.29" width="5.5" height="11.9" fill="#d2d2ed"/><rect x="329.77" y="379.29" width="5.5" height="11.9" fill="#8e8ed0"/><rect x="336.77" y="379.29" width="5.5" height="11.9" fill="#e5e5f5"/><rect x="343.76" y="379.29" width="5.5" height="11.9" fill="#f3f3fb"/><rect x="350.75" y="379.29" width="5.5" height="11.9" fill="#ffffff"/><rect x="357.74" y="379.29" width="5.5" height="11.9" fill="#e5e5f5"/><rect x="364.73" y="379.29" width="5.5" height="11.9" fill="#f3f3fb"/><rect x="371.73" y="379.29" width="5.5" height="11.9" fill="#f3f3fb"/><rect x="378.72" y="379.29" width="5.5" height="11.9" fill="#e5e5f5"/><rect x="385.71" y="379.29" width="5.5" height="11.9" fill="#f3f3fb"/><rect x="392.70" y="379.29" width="5.5" height="11.9" fill="#f3f3fb"/><rect x="399.69" y="379.29" width="5.5" height="11.9" fill="#f3f3fb"/><rect x="406.69" y="379.29" width="5.5" height="11.9" fill="#f3f3fb"/><rect x="413.68" y="379.29" width="5.5" height="11.9" fill="#f3f3fb"/><rect x="420.67" y="379.29" width="5.5" height="11.9" fill="#8e8ed0"/><rect x="427.66" y="379.29" width="5.5" height="11.9" fill="#f3f3fb"/><rect x="434.65" y="379.29" width="5.5" height="11.9" fill="#f3f3fb"/><rect x="441.65" y="379.29" width="5.5" height="11.9" fill="#f3f3fb"/><rect x="448.64" y="379.29" width="5.5" height="11.9" fill="#ffffff"/><rect x="455.63" y="379.29" width="5.5" height="11.9" fill="#f3f3fb"/><rect x="462.62" y="379.29" width="5.5" height="11.9" fill="#e5e5f5"/><rect x="469.61" y="379.29" width="5.5" height="11.9" fill="#e5e5f5"/><rect x="476.61" y="379.29" width="5.5" height="11.9" fill="#f3f3fb"/><rect x="483.60" y="379.29" width="5.5" height="11.9" fill="#e5e5f5"/><rect x="490.59" y="379.29" width="5.5" height="11.9" fill="#e5e5f5"/><rect x="497.58" y="379.29" width="5.5" height="11.9" fill="#d2d2ed"/><rect x="504.57" y="379.29" width="5.5" height="11.9" fill="#ffffff"/><rect x="511.57" y="379.29" width="5.5" height="11.9" fill="#e5e5f5"/><rect x="518.56" y="379.29" width="5.5" height="11.9" fill="#6666c0"/>
<rect x="174.95" y="393.38" width="350.10" height="12.9" fill="#bfbfc5"/><rect x="175.95" y="393.88" width="5.5" height="11.9" fill="#ffffff"/><rect x="182.94" y="393.88" width="5.5" height="11.9" fill="#f3f3fb"/><rect x="189.93" y="393.88" width="5.5" height="11.9" fill="#f3f3fb"/><rect x="196.93" y="393.88" width="5.5" height="11.9" fill="#f3f3fb"/><rect x="203.92" y="393.88" width="5.5" height="11.9" fill="#b6b6e1"/><rect x="210.91" y="393.88" width="5.5" height="11.9" fill="#ffffff"/><rect x="217.90" y="393.88" width="5.5" height="11.9" fill="#f3f3fb"/><rect x="224.89" y="393.88" width="5.5" height="11.9" fill="#ffffff"/><rect x="231.39" y="393.38" width="6.5" height="12.9" fill="#000070"/><rect x="238.88" y="393.88" width="5.5" height="11.9" fill="#ffffff"/><rect x="245.87" y="393.88" width="5.5" height="11.9" fill="#f3f3fb"/><rect x="252.86" y="393.88" width="5.5" height="11.9" fill="#ffffff"/><rect x="259.85" y="393.88" width="5.5" height="11.9" fill="#f3f3fb"/><rect x="266.85" y="393.88" width="5.5" height="11.9" fill="#f3f3fb"/><rect x="273.84" y="393.88" width="5.5" height="11.9" fill="#e5e5f5"/><rect x="280.83" y="393.88" width="5.5" height="11.9" fill="#f3f3fb"/><rect x="287.82" y="393.88" width="5.5" height="11.9" fill="#e5e5f5"/><rect x="294.81" y="393.88" width="5.5" height="11.9" fill="#f3f3fb"/><rect x="301.81" y="393.88" width="5.5" height="11.9" fill="#f3f3fb"/><rect x="308.80" y="393.88" width="5.5" height="11.9" fill="#f3f3fb"/><rect x="315.79" y="393.88" width="5.5" height="11.9" fill="#f3f3fb"/><rect x="322.78" y="393.88" width="5.5" height="11.9" fill="#e5e5f5"/><rect x="329.77" y="393.88" width="5.5" height="11.9" fill="#6666c0"/><rect x="336.77" y="393.88" width="5.5" height="11.9" fill="#e5e5f5"/><rect x="343.76" y="393.88" width="5.5" height="11.9" fill="#e5e5f5"/><rect x="350.75" y="393.88" width="5.5" height="11.9" fill="#e5e5f5"/><rect x="357.74" y="393.88" width="5.5" height="11.9" fill="#d2d2ed"/><rect x="364.73" y="393.88" width="5.5" height="11.9" fill="#b6b6e1"/><rect x="371.73" y="393.88" width="5.5" height="11.9" fill="#f3f3fb"/><rect x="378.72" y="393.88" width="5.5" height="11.9" fill="#e5e5f5"/><rect x="385.71" y="393.88" width="5.5" height="11.9" fill="#e5e5f5"/><rect x="392.70" y="393.88" width="5.5" height="11.9" fill="#f3f3fb"/><rect x="399.69" y="393.88" width="5.5" height="11.9" fill="#f3f3fb"/><rect x="406.69" y="393.88" width="5.5" height="11.9" fill="#e5e5f5"/><rect x="413.68" y="393.88" width="5.5" height="11.9" fill="#f3f3fb"/><rect x="420.67" y="393.88" width="5.5" height="11.9" fill="#d2d2ed"/><rect x="427.66" y="393.88" width="5.5" height="11.9" fill="#e5e5f5"/><rect x="434.65" y="393.88" width="5.5" height="11.9" fill="#f3f3fb"/><rect x="441.65" y="393.88" width="5.5" height="11.9" fill="#ffffff"/><rect x="448.64" y="393.88" width="5.5" height="11.9" fill="#e5e5f5"/><rect x="455.63" y="393.88" width="5.5" height="11.9" fill="#e5e5f5"/><rect x="462.62" y="393.88" width="5.5" height="11.9" fill="#e5e5f5"/><rect x="469.61" y="393.88" width="5.5" height="11.9" fill="#e5e5f5"/><rect x="476.61" y="393.88" width="5.5" height="11.9" fill="#e5e5f5"/><rect x="483.60" y="393.88" width="5.5" height="11.9" fill="#e5e5f5"/><rect x="490.59" y="393.88" width="5.5" height="11.9" fill="#d2d2ed"/><rect x="497.58" y="393.88" width="5.5" height="11.9" fill="#d2d2ed"/><rect x="504.57" y="393.88" width="5.5" height="11.9" fill="#f3f3fb"/><rect x="511.57" y="393.88" width="5.5" height="11.9" fill="#8e8ed0"/><rect x="518.06" y="393.38" width="6.5" height="12.9" fill="#4444b0"/>
<rect x="174.95" y="407.97" width="350.10" height="12.9" fill="#bfbfc5"/><rect x="175.95" y="408.47" width="5.5" height="11.9" fill="#ffffff"/><rect x="182.94" y="408.47" width="5.5" height="11.9" fill="#f3f3fb"/><rect x="189.93" y="408.47" width="5.5" height="11.9" fill="#f3f3fb"/><rect x="196.93" y="408.47" width="5.5" height="11.9" fill="#e5e5f5"/><rect x="203.92" y="408.47" width="5.5" height="11.9" fill="#b6b6e1"/><rect x="210.91" y="408.47" width="5.5" height="11.9" fill="#ffffff"/><rect x="217.90" y="408.47" width="5.5" height="11.9" fill="#f3f3fb"/><rect x="224.89" y="408.47" width="5.5" height="11.9" fill="#ffffff"/><rect x="231.39" y="407.97" width="6.5" height="12.9" fill="#0a0a92"/><rect x="238.88" y="408.47" width="5.5" height="11.9" fill="#f3f3fb"/><rect x="245.87" y="408.47" width="5.5" height="11.9" fill="#f3f3fb"/><rect x="252.86" y="408.47" width="5.5" height="11.9" fill="#f3f3fb"/><rect x="259.85" y="408.47" width="5.5" height="11.9" fill="#f3f3fb"/><rect x="266.85" y="408.47" width="5.5" height="11.9" fill="#e5e5f5"/><rect x="273.84" y="408.47" width="5.5" height="11.9" fill="#e5e5f5"/><rect x="280.83" y="408.47" width="5.5" height="11.9" fill="#e5e5f5"/><rect x="287.82" y="408.47" width="5.5" height="11.9" fill="#e5e5f5"/><rect x="294.81" y="408.47" width="5.5" height="11.9" fill="#f3f3fb"/><rect x="301.81" y="408.47" width="5.5" height="11.9" fill="#e5e5f5"/><rect x="308.80" y="408.47" width="5.5" height="11.9" fill="#ffffff"/><rect x="315.79" y="408.47" width="5.5" height="11.9" fill="#f3f3fb"/><rect x="322.78" y="408.47" width="5.5" height="11.9" fill="#e5e5f5"/><rect x="329.77" y="408.47" width="5.5" height="11.9" fill="#b6b6e1"/><rect x="336.77" y="408.47" width="5.5" height="11.9" fill="#e5e5f5"/><rect x="343.76" y="408.47" width="5.5" height="11.9" fill="#e5e5f5"/><rect x="350.75" y="408.47" width="5.5" height="11.9" fill="#f3f3fb"/><rect x="357.74" y="408.47" width="5.5" height="11.9" fill="#f3f3fb"/><rect x="364.73" y="408.47" width="5.5" height="11.9" fill="#8e8ed0"/><rect x="371.73" y="408.47" width="5.5" height="11.9" fill="#f3f3fb"/><rect x="378.72" y="408.47" width="5.5" height="11.9" fill="#e5e5f5"/><rect x="385.71" y="408.47" width="5.5" height="11.9" fill="#d2d2ed"/><rect x="392.70" y="408.47" width="5.5" height="11.9" fill="#d2d2ed"/><rect x="399.69" y="408.47" width="5.5" height="11.9" fill="#b6b6e1"/><rect x="406.69" y="408.47" width="5.5" height="11.9" fill="#f3f3fb"/><rect x="413.68" y="408.47" width="5.5" height="11.9" fill="#f3f3fb"/><rect x="420.67" y="408.47" width="5.5" height="11.9" fill="#e5e5f5"/><rect x="427.66" y="408.47" width="5.5" height="11.9" fill="#d2d2ed"/><rect x="434.65" y="408.47" width="5.5" height="11.9" fill="#e5e5f5"/><rect x="441.65" y="408.47" width="5.5" height="11.9" fill="#f3f3fb"/><rect x="448.64" y="408.47" width="5.5" height="11.9" fill="#e5e5f5"/><rect x="455.63" y="408.47" width="5.5" height="11.9" fill="#e5e5f5"/><rect x="462.62" y="408.47" width="5.5" height="11.9" fill="#e5e5f5"/><rect x="469.61" y="408.47" width="5.5" height="11.9" fill="#f3f3fb"/><rect x="476.61" y="408.47" width="5.5" height="11.9" fill="#e5e5f5"/><rect x="483.60" y="408.47" width="5.5" height="11.9" fill="#d2d2ed"/><rect x="490.59" y="408.47" width="5.5" height="11.9" fill="#d2d2ed"/><rect x="497.58" y="408.47" width="5.5" height="11.9" fill="#d2d2ed"/><rect x="504.57" y="408.47" width="5.5" height="11.9" fill="#f3f3fb"/><rect x="511.57" y="408.47" width="5.5" height="11.9" fill="#b6b6e1"/><rect x="518.06" y="407.97" width="6.5" height="12.9" fill="#4444b0"/>
</g>
<rect x="132.9" y="72.40" width="9.6" height="12.9" fill="#175c12"/><rect x="157.9" y="72.70" width="9.2" height="12.3" fill="#fff" stroke="#c4c4c4" stroke-width="0.6"/>
<rect x="132.9" y="86.99" width="9.6" height="12.9" fill="#175c12"/><rect x="157.6" y="86.99" width="9.7" height="12.9" fill="#000"/>
<rect x="132.9" y="101.58" width="9.6" height="12.9" fill="#175c12"/><rect x="145.2" y="101.58" width="9.6" height="12.9" fill="#1f8cf2"/><rect x="157.6" y="101.58" width="9.7" height="12.9" fill="#000"/>
<rect x="132.9" y="116.17" width="9.6" height="12.9" fill="#175c12"/><rect x="157.9" y="116.47" width="9.2" height="12.3" fill="#fff" stroke="#c4c4c4" stroke-width="0.6"/>
<rect x="132.9" y="130.76" width="9.6" height="12.9" fill="#175c12"/><rect x="145.2" y="130.76" width="9.6" height="12.9" fill="#1f8cf2"/><rect x="157.9" y="131.06" width="9.2" height="12.3" fill="#fff" stroke="#c4c4c4" stroke-width="0.6"/>
<rect x="132.9" y="145.35" width="9.6" height="12.9" fill="#641e10"/><rect x="145.2" y="145.35" width="9.6" height="12.9" fill="#b43ee8"/><rect x="157.9" y="145.65" width="9.2" height="12.3" fill="#fff" stroke="#c4c4c4" stroke-width="0.6"/>
<rect x="132.9" y="159.94" width="9.6" height="12.9" fill="#641e10"/><rect x="157.6" y="159.94" width="9.7" height="12.9" fill="#000"/>
<rect x="132.9" y="174.53" width="9.6" height="12.9" fill="#641e10"/><rect x="157.9" y="174.83" width="9.2" height="12.3" fill="#fff" stroke="#c4c4c4" stroke-width="0.6"/>
<rect x="132.9" y="189.12" width="9.6" height="12.9" fill="#641e10"/><rect x="145.2" y="189.12" width="9.6" height="12.9" fill="#b43ee8"/><rect x="157.6" y="189.12" width="9.7" height="12.9" fill="#000"/>
<rect x="132.9" y="203.71" width="9.6" height="12.9" fill="#641e10"/><rect x="157.9" y="204.01" width="9.2" height="12.3" fill="#fff" stroke="#c4c4c4" stroke-width="0.6"/>
<rect x="132.9" y="218.30" width="9.6" height="12.9" fill="#175c12"/><rect x="145.2" y="218.30" width="9.6" height="12.9" fill="#b43ee8"/><rect x="157.9" y="218.60" width="9.2" height="12.3" fill="#fff" stroke="#c4c4c4" stroke-width="0.6"/>
<rect x="132.9" y="232.89" width="9.6" height="12.9" fill="#175c12"/><rect x="145.2" y="232.89" width="9.6" height="12.9" fill="#b43ee8"/><rect x="157.6" y="232.89" width="9.7" height="12.9" fill="#000"/>
<rect x="132.9" y="247.48" width="9.6" height="12.9" fill="#175c12"/><rect x="157.6" y="247.48" width="9.7" height="12.9" fill="#000"/>
<rect x="132.9" y="262.07" width="9.6" height="12.9" fill="#175c12"/><rect x="157.6" y="262.07" width="9.7" height="12.9" fill="#000"/>
<rect x="132.9" y="276.66" width="9.6" height="12.9" fill="#175c12"/><rect x="157.9" y="276.96" width="9.2" height="12.3" fill="#fff" stroke="#c4c4c4" stroke-width="0.6"/>
<rect x="132.9" y="291.25" width="9.6" height="12.9" fill="#175c12"/><rect x="145.2" y="291.25" width="9.6" height="12.9" fill="#f2ab27"/><rect x="157.9" y="291.55" width="9.2" height="12.3" fill="#fff" stroke="#c4c4c4" stroke-width="0.6"/>
<rect x="132.9" y="305.84" width="9.6" height="12.9" fill="#641e10"/><rect x="145.2" y="305.84" width="9.6" height="12.9" fill="#f2ab27"/><rect x="157.6" y="305.84" width="9.7" height="12.9" fill="#000"/>
<rect x="132.9" y="320.43" width="9.6" height="12.9" fill="#641e10"/><rect x="145.2" y="320.43" width="9.6" height="12.9" fill="#f2ab27"/><rect x="157.9" y="320.73" width="9.2" height="12.3" fill="#fff" stroke="#c4c4c4" stroke-width="0.6"/>
<rect x="132.9" y="335.02" width="9.6" height="12.9" fill="#641e10"/><rect x="157.9" y="335.32" width="9.2" height="12.3" fill="#fff" stroke="#c4c4c4" stroke-width="0.6"/>
<rect x="132.9" y="349.61" width="9.6" height="12.9" fill="#175c12"/><rect x="145.2" y="349.61" width="9.6" height="12.9" fill="#f2ab27"/><rect x="157.6" y="349.61" width="9.7" height="12.9" fill="#000"/>
<rect x="132.9" y="364.20" width="9.6" height="12.9" fill="#641e10"/><rect x="157.6" y="364.20" width="9.7" height="12.9" fill="#000"/>
<rect x="132.9" y="378.79" width="9.6" height="12.9" fill="#641e10"/><rect x="157.6" y="378.79" width="9.7" height="12.9" fill="#000"/>
<rect x="132.9" y="393.38" width="9.6" height="12.9" fill="#641e10"/><rect x="145.2" y="393.38" width="9.6" height="12.9" fill="#1f8cf2"/><rect x="157.9" y="393.68" width="9.2" height="12.3" fill="#fff" stroke="#c4c4c4" stroke-width="0.6"/>
<rect x="132.9" y="407.97" width="9.6" height="12.9" fill="#641e10"/><rect x="145.2" y="407.97" width="9.6" height="12.9" fill="#1f8cf2"/><rect x="157.6" y="407.97" width="9.7" height="12.9" fill="#000"/>
<rect x="145.15" y="72.30" width="9.8" height="13.1" fill="#f6820f" stroke="#000" stroke-width="1.7"/><rect x="145.15" y="86.89" width="9.8" height="13.1" fill="#f6820f" stroke="#000" stroke-width="1.7"/><rect x="145.15" y="116.07" width="9.8" height="13.1" fill="#98cf30" stroke="#000" stroke-width="1.7"/><rect x="145.15" y="159.84" width="9.8" height="13.1" fill="#f6820f" stroke="#000" stroke-width="1.7"/><rect x="145.15" y="174.43" width="9.8" height="13.1" fill="#f6820f" stroke="#000" stroke-width="1.7"/><rect x="145.15" y="203.61" width="9.8" height="13.1" fill="#ee1289" stroke="#000" stroke-width="1.7"/><rect x="145.15" y="247.38" width="9.8" height="13.1" fill="#98cf30" stroke="#000" stroke-width="1.7"/><rect x="145.15" y="261.97" width="9.8" height="13.1" fill="#ee1289" stroke="#000" stroke-width="1.7"/><rect x="145.15" y="276.56" width="9.8" height="13.1" fill="#ee1289" stroke="#000" stroke-width="1.7"/><rect x="145.15" y="334.92" width="9.8" height="13.1" fill="#98cf30" stroke="#000" stroke-width="1.7"/><rect x="145.15" y="364.10" width="9.8" height="13.1" fill="#98cf30" stroke="#000" stroke-width="1.7"/><rect x="145.15" y="378.69" width="9.8" height="13.1" fill="#ee1289" stroke="#000" stroke-width="1.7"/>
<path d="M178.70 69.00V48.30H185.69V69.00M192.68 69.00V50.90H199.67V69.00M213.66 69.00V66.70H220.65V69.00M227.64 69.00V66.70H234.63V69.00M217.15 66.70V62.80H231.14V66.70M206.66 69.00V52.20H224.14V62.80M196.18 50.90V40.20H215.40V52.20M182.19 48.30V26.70H205.79V40.20M241.62 69.00V51.40H248.62V69.00M255.61 69.00V50.60H262.60V69.00M245.12 51.40V34.00H259.10V50.60M276.58 69.00V50.60H283.58V69.00M269.59 69.00V46.40H280.08V50.60M290.57 69.00V58.60H297.56V69.00M294.06 58.60V56.60H304.55V69.00M311.54 69.00V54.40H318.54V69.00M325.53 69.00V56.60H332.52V69.00M315.04 54.40V46.60H329.02V56.60M299.31 56.60V36.60H322.03V46.60M274.84 46.40V19.40H310.67V36.60M252.11 34.00V16.60H292.75V19.40M193.99 26.70V11.00H272.43V16.60M339.51 69.00V62.60H346.50V69.00M353.50 69.00V54.00H360.49V69.00M343.01 62.60V48.60H356.99V54.00M374.47 69.00V58.00H381.46V69.00M395.45 69.00V63.60H402.44V69.00M388.46 69.00V58.00H398.94V63.60M377.97 58.00V48.40H393.70V58.00M367.48 69.00V45.60H385.83V48.40M350.00 48.60V32.60H376.66V45.60M409.43 69.00V58.60H416.42V69.00M412.93 58.60V43.60H423.42V69.00M430.41 69.00V55.60H437.40V69.00M451.38 69.00V55.60H458.38V69.00M444.39 69.00V46.40H454.88V55.60M433.90 55.60V39.60H449.64V46.40M418.17 43.60V30.00H441.77V39.60M472.36 69.00V58.60H479.35V69.00M465.37 69.00V54.00H475.86V58.60M486.34 69.00V53.60H493.34V69.00M507.32 69.00V63.60H514.31V69.00M510.82 63.60V61.00H521.30V69.00M500.33 69.00V55.60H516.06V61.00M489.84 53.60V48.60H508.19V55.60M470.61 54.00V42.40H499.02V48.60M429.97 30.00V20.00H484.81V42.40M363.33 32.60V14.20H457.39V20.00M233.21 11.00V4.40H410.36V14.20" fill="none" stroke="#111" stroke-width="0.9"/>
<path d="M129.30 78.84H128.20V93.44H129.30M129.30 108.03H127.00V122.61H129.30M128.20 86.14H125.40V115.32H127.00M125.40 100.73H121.80V137.20H129.30M129.30 151.80H125.70V166.38H129.30M125.70 159.09H121.70V180.97H129.30M129.30 195.56H121.70V210.15H129.30M121.70 170.03H116.00V202.86H121.70M121.80 118.97H113.80V186.45H116.00M129.30 224.75H126.20V239.33H129.30M126.20 232.04H123.50V253.93H129.30M129.30 268.51H127.30V283.11H129.30M123.50 242.98H121.90V275.81H127.30M121.90 259.40H116.50V297.69H129.30M113.80 152.71H96.90V278.55H116.50M129.30 312.28H125.90V326.88H129.30M125.90 319.58H123.50V341.47H129.30M123.50 330.52H112.50V356.06H129.30M129.30 370.64H128.00V385.24H129.30M129.30 399.82H124.50V414.42H129.30M128.00 377.94H117.50V407.12H124.50M112.50 343.29H79.20V392.53H117.50M96.90 215.63H71.80V367.91H79.20" fill="none" stroke="#111" stroke-width="0.9"/>
<text class="hd" transform="translate(140.7 66.7) rotate(-90)">Sample type</text><text class="hd" transform="translate(151.6 66.7) rotate(-90)">Variety</text><text class="hd" transform="translate(165.0 66.7) rotate(-90)">Stress</text>
<text class="gn" text-anchor="end" transform="translate(180.60 427) rotate(-90)">Microbispora</text><text class="gn" text-anchor="end" transform="translate(187.59 427) rotate(-90)">Bacillus</text><text class="gn" text-anchor="end" transform="translate(194.58 427) rotate(-90)">Sphingomonas</text><text class="gn" text-anchor="end" transform="translate(201.57 427) rotate(-90)">Acinetobacter</text><text class="gn" text-anchor="end" transform="translate(208.56 427) rotate(-90)">Burkholderia</text><text class="gn" text-anchor="end" transform="translate(215.56 427) rotate(-90)">Kineosporia</text><text class="gn" text-anchor="end" transform="translate(222.55 427) rotate(-90)">WPS 1</text><text class="gn" text-anchor="end" transform="translate(229.54 427) rotate(-90)">Propionibacterium</text><text class="gn" text-anchor="end" transform="translate(236.53 427) rotate(-90)">Herbaspirillum</text><text class="gn" text-anchor="end" transform="translate(243.52 427) rotate(-90)">Enterobacter</text><text class="gn" text-anchor="end" transform="translate(250.52 427) rotate(-90)">Staphylococcus</text><text class="gn" text-anchor="end" transform="translate(257.51 427) rotate(-90)">Micrococcus</text><text class="gn" text-anchor="end" transform="translate(264.50 427) rotate(-90)">Minicystis</text><text class="gn" text-anchor="end" transform="translate(271.49 427) rotate(-90)">Nitrolancea</text><text class="gn" text-anchor="end" transform="translate(278.48 427) rotate(-90)">Mycobacterium</text><text class="gn" text-anchor="end" transform="translate(285.48 427) rotate(-90)">Devosia</text><text class="gn" text-anchor="end" transform="translate(292.47 427) rotate(-90)">Luteolibacter</text><text class="gn" text-anchor="end" transform="translate(299.46 427) rotate(-90)">Cellvibrio</text><text class="gn" text-anchor="end" transform="translate(306.45 427) rotate(-90)">Flavobacterium</text><text class="gn" text-anchor="end" transform="translate(313.44 427) rotate(-90)">Limnobacter</text><text class="gn" text-anchor="end" transform="translate(320.44 427) rotate(-90)">Rhizobium</text><text class="gn" text-anchor="end" transform="translate(327.43 427) rotate(-90)">Bhargavaea</text><text class="gn" text-anchor="end" transform="translate(334.42 427) rotate(-90)">Pseudomonas</text><text class="gn" text-anchor="end" transform="translate(341.41 427) rotate(-90)">Hyphomicrobium</text><text class="gn" text-anchor="end" transform="translate(348.40 427) rotate(-90)">Rhodoplanes</text><text class="gn" text-anchor="end" transform="translate(355.40 427) rotate(-90)">Gaiella</text><text class="gn" text-anchor="end" transform="translate(362.39 427) rotate(-90)">Nocardioides</text><text class="gn" text-anchor="end" transform="translate(369.38 427) rotate(-90)">Conexibacter</text><text class="gn" text-anchor="end" transform="translate(376.37 427) rotate(-90)">Singulisphaera</text><text class="gn" text-anchor="end" transform="translate(383.36 427) rotate(-90)">Gemmatimonas</text><text class="gn" text-anchor="end" transform="translate(390.36 427) rotate(-90)">Pseudolabrys</text><text class="gn" text-anchor="end" transform="translate(397.35 427) rotate(-90)">Halomonas</text><text class="gn" text-anchor="end" transform="translate(404.34 427) rotate(-90)">Saccharibacteria</text><text class="gn" text-anchor="end" transform="translate(411.33 427) rotate(-90)">Longilinea</text><text class="gn" text-anchor="end" transform="translate(418.32 427) rotate(-90)">Ktedonobacter</text><text class="gn" text-anchor="end" transform="translate(425.32 427) rotate(-90)">Streptomyces</text><text class="gn" text-anchor="end" transform="translate(432.31 427) rotate(-90)">Rhodanobacter</text><text class="gn" text-anchor="end" transform="translate(439.30 427) rotate(-90)">Actinomadura</text><text class="gn" text-anchor="end" transform="translate(446.29 427) rotate(-90)">Opitutus</text><text class="gn" text-anchor="end" transform="translate(453.28 427) rotate(-90)">Mesorhizobium</text><text class="gn" text-anchor="end" transform="translate(460.28 427) rotate(-90)">Leifsonia</text><text class="gn" text-anchor="end" transform="translate(467.27 427) rotate(-90)">Planctomicrobium</text><text class="gn" text-anchor="end" transform="translate(474.26 427) rotate(-90)">Aridibacter</text><text class="gn" text-anchor="end" transform="translate(481.25 427) rotate(-90)">Planctopirus</text><text class="gn" text-anchor="end" transform="translate(488.24 427) rotate(-90)">Povalibacter</text><text class="gn" text-anchor="end" transform="translate(495.24 427) rotate(-90)">Ornatilinea</text><text class="gn" text-anchor="end" transform="translate(502.23 427) rotate(-90)">Pirellula</text><text class="gn" text-anchor="end" transform="translate(509.22 427) rotate(-90)">Thermogutta</text><text class="gn" text-anchor="end" transform="translate(516.21 427) rotate(-90)">Acidobacteria Gp16</text><text class="gn" text-anchor="end" transform="translate(523.20 427) rotate(-90)">AcidobacteriaGp6</text>
<text class="lg" transform="translate(332.60 483.70) scale(0.930 1)">Genera</text>
<text class="lg" transform="translate(545.10 282.80) rotate(-90) scale(0.930 1)">Samples</text>
<text class="lg" transform="translate(16.30 13.00) scale(0.930 1)">Sample type</text>
<rect x="16.1" y="19.4" width="10.4" height="12.8" fill="#641e10"/><text class="lg" transform="translate(33.30 26.70) scale(0.930 1)">Rizosphere</text>
<rect x="16.1" y="35.6" width="10.4" height="12.8" fill="#175c12"/><text class="lg" transform="translate(33.30 42.40) scale(0.930 1)">Roots</text>
<rect x="16.6" y="69.3" width="9.6" height="12" fill="#f6820f" stroke="#000" stroke-width="1.5"/><text class="lg" transform="translate(33.30 78.50) scale(0.930 1)">Bibb</text>
<rect x="16.6" y="85.8" width="9.6" height="12" fill="#ee1289" stroke="#000" stroke-width="1.5"/><text class="lg" transform="translate(33.30 94.80) scale(0.930 1)">Romana Larga Blanca</text>
<rect x="16.6" y="102.3" width="9.6" height="12" fill="#98cf30" stroke="#000" stroke-width="1.5"/><text class="lg" transform="translate(33.30 111.30) scale(0.930 1)">SM09PA</text>
<rect x="16.1" y="118.6" width="10.4" height="12.8" fill="#b43ee8"/><text class="lg" transform="translate(33.30 127.70) scale(0.930 1)">Dark Green Romaine</text>
<rect x="16.1" y="135.2" width="10.4" height="12.8" fill="#f2ab27"/><text class="lg" transform="translate(33.30 144.20) scale(0.930 1)">Pavane</text>
<rect x="16.1" y="151.8" width="10.4" height="12.8" fill="#1f8cf2"/><text class="lg" transform="translate(33.30 160.70) scale(0.930 1)">Sentry</text>
<rect x="16.4" y="187.9" width="10" height="12.4" fill="#fff" stroke="#c8c8c8" stroke-width="0.6"/><text class="lg" transform="translate(33.30 198.60) scale(0.930 1)">No stress</text>
<rect x="16.1" y="204.3" width="10.4" height="12.8" fill="#000"/><text class="lg" transform="translate(33.30 213.80) scale(0.930 1)">Salinity stress</text>
<text class="lg" transform="translate(16.30 61.20) scale(0.930 1)">Variety</text>
<text class="lg" transform="translate(15.30 181.40) scale(0.930 1)">Stress</text>
<text class="lg rs" text-anchor="middle" transform="translate(11.70 91.50) rotate(-90) scale(0.930 1)">Resistant</text>
<text class="lg rs" text-anchor="middle" transform="translate(11.70 141.60) rotate(-90) scale(0.930 1)">Sensitive</text>
<text class="lg" text-anchor="middle" transform="translate(58.60 417.60) scale(0.930 1)">Percentual share</text>
<rect x="15.5" y="426.8" width="90.2" height="41.8" fill="url(#g)" stroke="#c0c0c0" stroke-width="0.6"/>
<path d="M16.5 468.6v2.4" stroke="#555" stroke-width="0.6"/><text class="tk" text-anchor="middle" x="16.5" y="480.8">0</text><path d="M36.0 468.6v2.4" stroke="#555" stroke-width="0.6"/><text class="tk" text-anchor="middle" x="36.0" y="480.8">5</text><path d="M55.6 468.6v2.4" stroke="#555" stroke-width="0.6"/><text class="tk" text-anchor="middle" x="55.6" y="480.8">10</text><path d="M75.2 468.6v2.4" stroke="#555" stroke-width="0.6"/><text class="tk" text-anchor="middle" x="75.2" y="480.8">15</text><path d="M95.0 468.6v2.4" stroke="#555" stroke-width="0.6"/><text class="tk" text-anchor="middle" x="95.0" y="480.8">20</text>
</svg>
</body></html>
